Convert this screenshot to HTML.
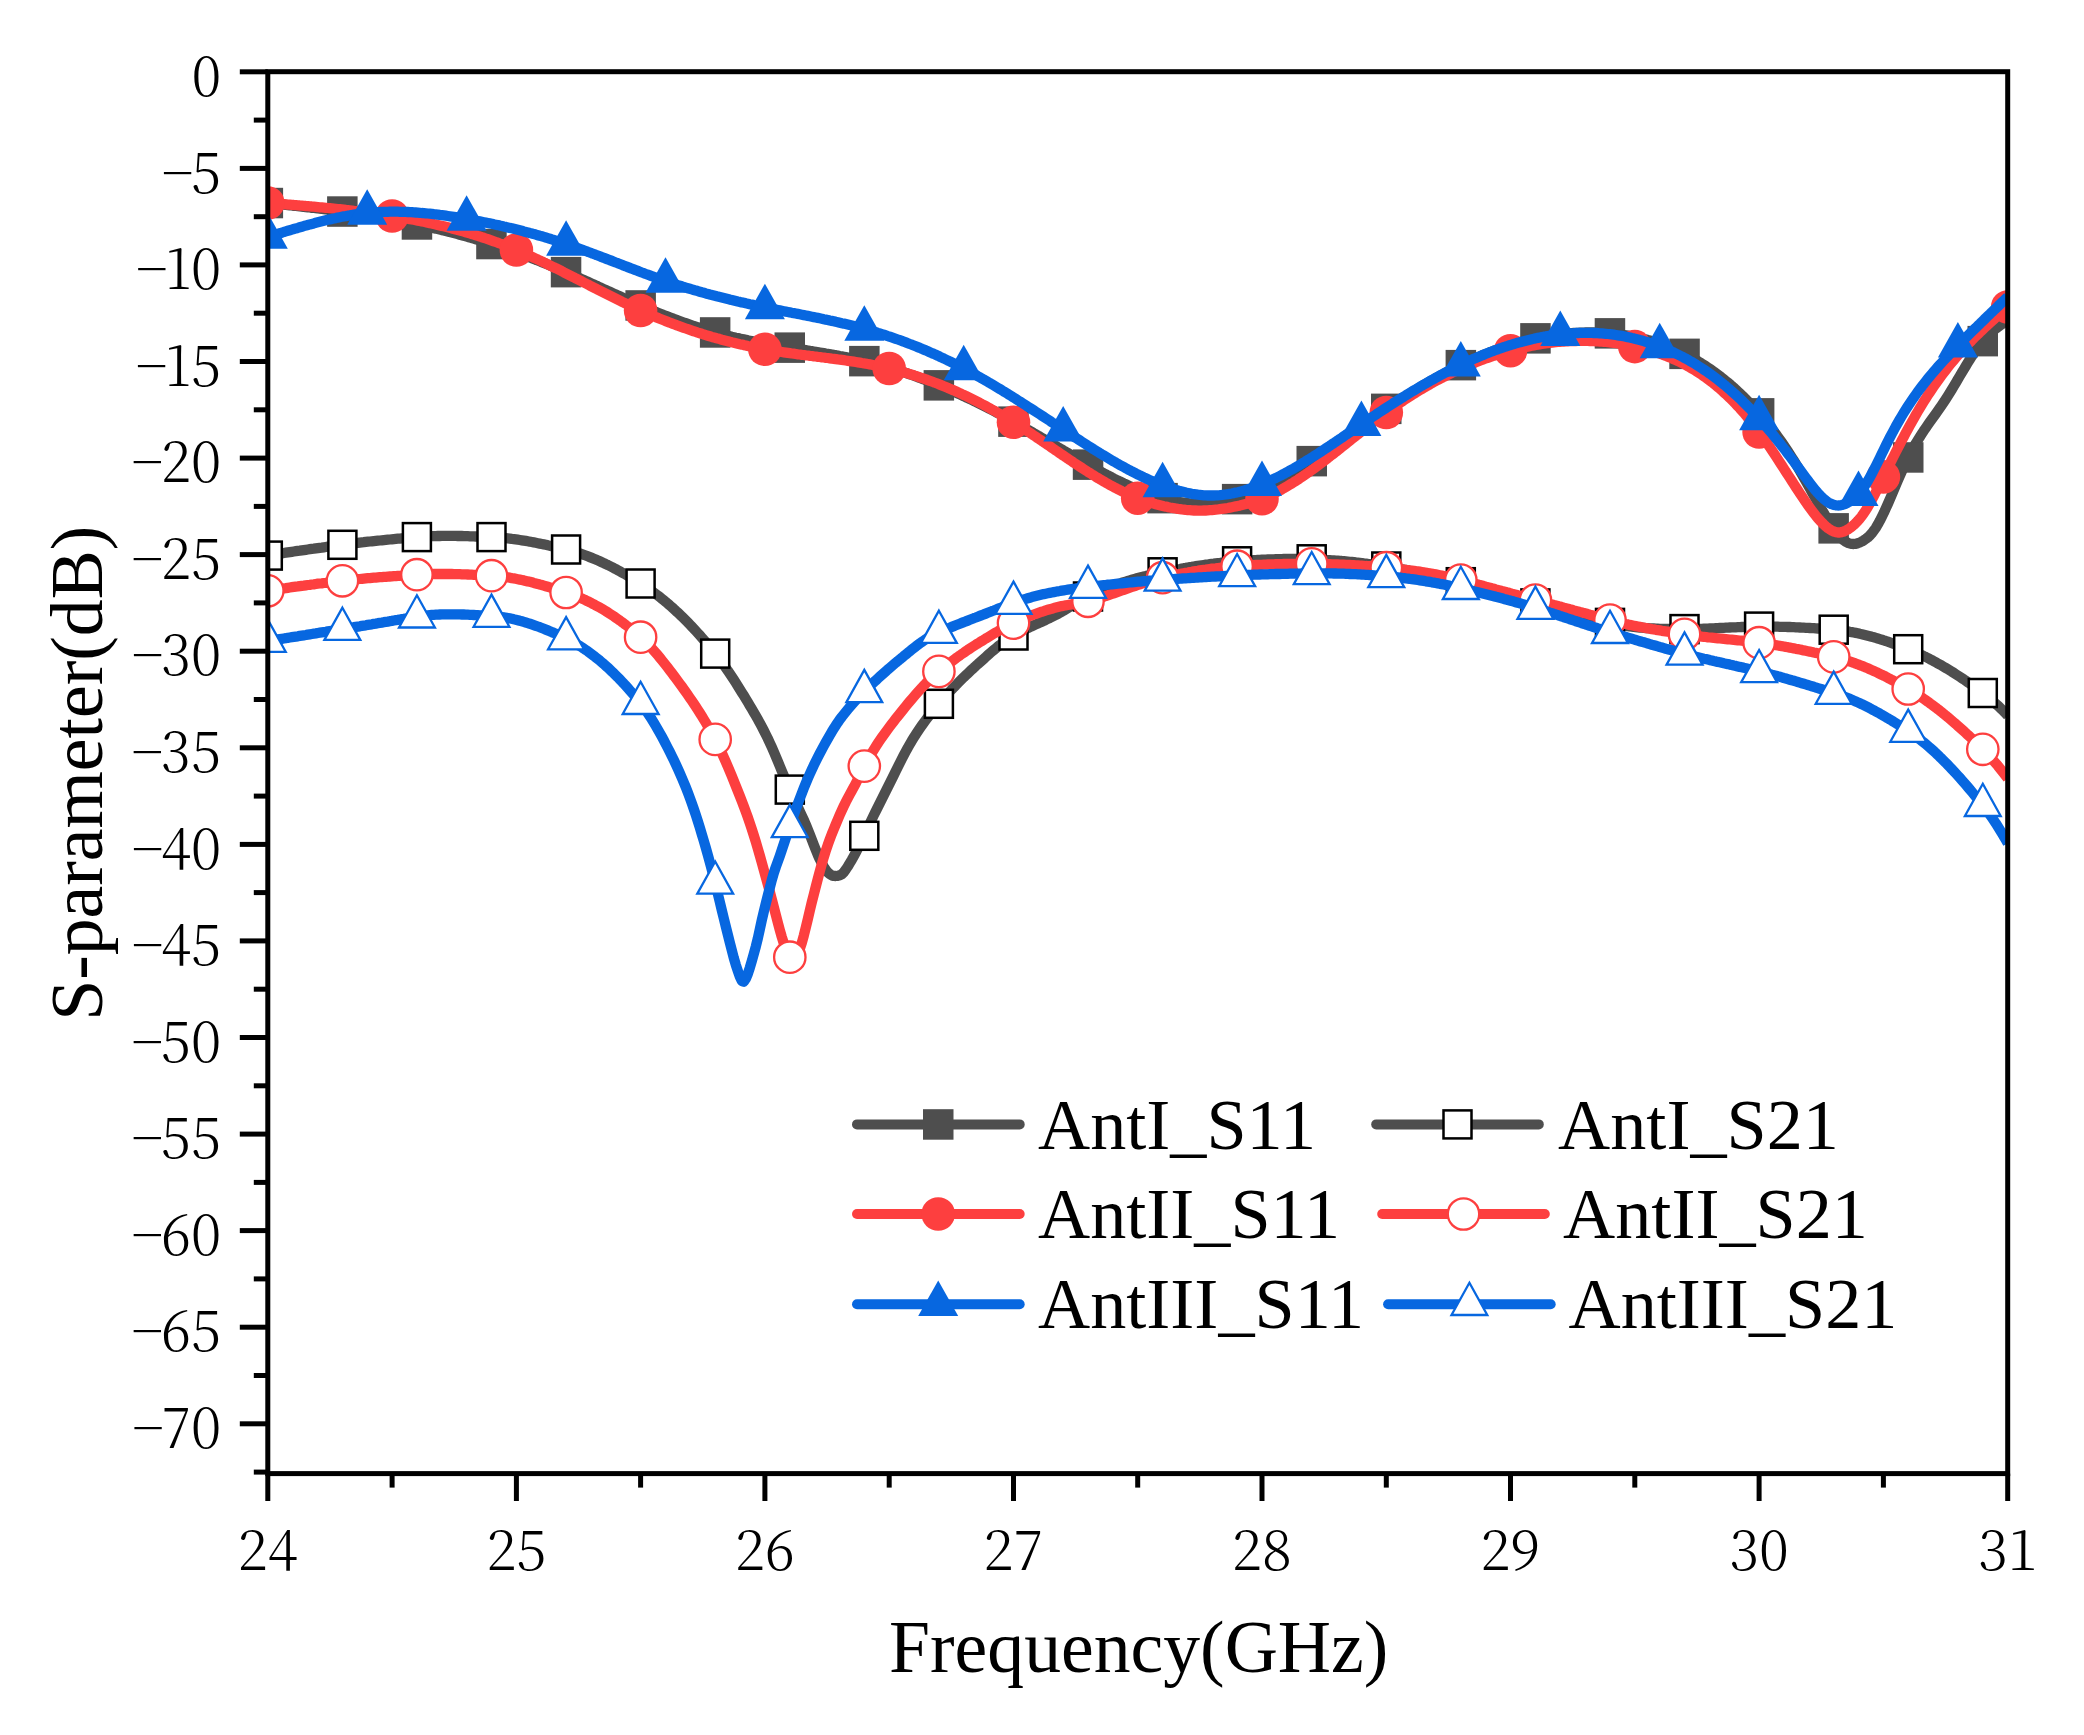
<!DOCTYPE html>
<html lang="en"><head><meta charset="utf-8"><title>S-parameter</title>
<style>
html,body{margin:0;padding:0;background:#fff;}
svg{display:block;}
.tk{font-family:"Noto Serif CJK SC","Liberation Serif",serif;font-weight:300;font-size:55px;fill:#000;}
.lb{font-family:"Liberation Serif","Times New Roman",serif;font-size:73.7px;fill:#000;}
.lg{font-family:"Liberation Serif","Times New Roman",serif;font-size:72.2px;fill:#000;}
</style></head><body>
<svg width="2084" height="1735" viewBox="0 0 2084 1735">
<rect width="2084" height="1735" fill="#fff"/>
<defs><clipPath id="cp"><rect x="267.8" y="71.7" width="1739.9" height="1401.8999999999999"/></clipPath></defs>
<g clip-path="url(#cp)">
<path d="M267.8,203.0 L269.8,203.2 L271.8,203.4 L273.8,203.6 L275.8,203.8 L277.8,204.1 L279.8,204.3 L281.8,204.5 L283.8,204.7 L285.8,204.9 L287.8,205.1 L289.8,205.3 L291.8,205.5 L293.8,205.8 L295.8,206.0 L297.8,206.2 L299.8,206.4 L301.8,206.6 L303.8,206.9 L305.8,207.1 L307.8,207.3 L309.8,207.5 L311.8,207.8 L313.8,208.0 L315.8,208.2 L317.8,208.5 L319.8,208.7 L321.8,209.0 L323.8,209.2 L325.8,209.5 L327.8,209.7 L329.8,210.0 L331.8,210.2 L333.8,210.5 L335.8,210.7 L337.8,211.0 L339.8,211.3 L341.8,211.5 L343.8,211.8 L345.8,212.1 L347.8,212.4 L349.8,212.6 L351.8,212.9 L353.8,213.2 L355.8,213.5 L357.8,213.8 L359.8,214.1 L361.8,214.4 L363.8,214.7 L365.8,215.0 L367.8,215.3 L369.8,215.7 L371.8,216.0 L373.8,216.3 L375.8,216.6 L377.8,217.0 L379.8,217.3 L381.8,217.7 L383.8,218.0 L385.8,218.4 L387.8,218.7 L389.8,219.1 L391.8,219.4 L393.8,219.8 L395.8,220.2 L397.8,220.6 L399.8,220.9 L401.8,221.3 L403.8,221.7 L405.8,222.1 L407.8,222.5 L409.8,222.9 L411.8,223.3 L413.8,223.7 L415.8,224.2 L417.8,224.6 L419.8,225.0 L421.8,225.4 L423.8,225.9 L425.8,226.3 L427.8,226.8 L429.8,227.2 L431.8,227.7 L433.8,228.2 L435.8,228.6 L437.8,229.1 L439.8,229.6 L441.8,230.1 L443.8,230.5 L445.8,231.0 L447.8,231.5 L449.8,232.1 L451.8,232.6 L453.8,233.1 L455.8,233.6 L457.8,234.1 L459.8,234.7 L461.8,235.2 L463.8,235.8 L465.8,236.3 L467.8,236.9 L469.8,237.4 L471.8,238.0 L473.8,238.6 L475.8,239.2 L477.8,239.8 L479.8,240.4 L481.8,241.0 L483.8,241.6 L485.8,242.2 L487.8,242.8 L489.8,243.5 L491.8,244.1 L493.8,244.7 L495.8,245.4 L497.8,246.1 L499.8,246.7 L501.8,247.4 L503.8,248.1 L505.8,248.7 L507.8,249.4 L509.8,250.1 L511.8,250.8 L513.8,251.6 L515.8,252.3 L517.8,253.0 L519.8,253.7 L521.8,254.5 L523.8,255.2 L525.8,255.9 L527.8,256.7 L529.8,257.5 L531.8,258.2 L533.8,259.0 L535.8,259.8 L537.8,260.5 L539.8,261.3 L541.8,262.1 L543.8,262.9 L545.8,263.7 L547.8,264.5 L549.8,265.4 L551.8,266.2 L553.8,267.0 L555.8,267.8 L557.8,268.7 L559.8,269.5 L561.8,270.4 L563.8,271.2 L565.8,272.1 L567.8,273.0 L569.8,273.8 L571.8,274.7 L573.8,275.6 L575.8,276.5 L577.8,277.3 L579.8,278.2 L581.8,279.1 L583.8,280.0 L585.8,280.9 L587.8,281.8 L589.8,282.7 L591.8,283.6 L593.8,284.5 L595.8,285.4 L597.8,286.3 L599.8,287.3 L601.8,288.2 L603.8,289.1 L605.8,290.0 L607.8,290.9 L609.8,291.8 L611.8,292.7 L613.8,293.6 L615.8,294.5 L617.8,295.4 L619.8,296.3 L621.8,297.2 L623.8,298.1 L625.8,299.0 L627.8,299.9 L629.8,300.8 L631.8,301.7 L633.8,302.5 L635.8,303.4 L637.8,304.3 L639.8,305.1 L641.8,306.0 L643.8,306.9 L645.8,307.7 L647.8,308.5 L649.8,309.4 L651.8,310.2 L653.8,311.0 L655.8,311.9 L657.8,312.7 L659.8,313.5 L661.8,314.3 L663.8,315.1 L665.8,315.8 L667.8,316.6 L669.8,317.4 L671.8,318.1 L673.8,318.9 L675.8,319.6 L677.8,320.4 L679.8,321.1 L681.8,321.8 L683.8,322.5 L685.8,323.2 L687.8,323.9 L689.8,324.6 L691.8,325.3 L693.8,326.0 L695.8,326.6 L697.8,327.3 L699.8,327.9 L701.8,328.5 L703.8,329.2 L705.8,329.8 L707.8,330.4 L709.8,331.0 L711.8,331.5 L713.8,332.1 L715.8,332.7 L717.8,333.2 L719.8,333.7 L721.8,334.3 L723.8,334.8 L725.8,335.3 L727.8,335.8 L729.8,336.3 L731.8,336.8 L733.8,337.2 L735.8,337.7 L737.8,338.1 L739.8,338.6 L741.8,339.0 L743.8,339.4 L745.8,339.8 L747.8,340.3 L749.8,340.7 L751.8,341.1 L753.8,341.5 L755.8,341.8 L757.8,342.2 L759.8,342.6 L761.8,343.0 L763.8,343.3 L765.8,343.7 L767.8,344.0 L769.8,344.4 L771.8,344.7 L773.8,345.1 L775.8,345.4 L777.8,345.8 L779.8,346.1 L781.8,346.4 L783.8,346.7 L785.8,347.1 L787.8,347.4 L789.8,347.7 L791.8,348.0 L793.8,348.3 L795.8,348.7 L797.8,349.0 L799.8,349.3 L801.8,349.6 L803.8,349.9 L805.8,350.2 L807.8,350.5 L809.8,350.9 L811.8,351.2 L813.8,351.5 L815.8,351.8 L817.8,352.2 L819.8,352.5 L821.8,352.8 L823.8,353.1 L825.8,353.5 L827.8,353.8 L829.8,354.2 L831.8,354.5 L833.8,354.9 L835.8,355.2 L837.8,355.6 L839.8,356.0 L841.8,356.3 L843.8,356.7 L845.8,357.1 L847.8,357.5 L849.8,357.9 L851.8,358.3 L853.8,358.8 L855.8,359.2 L857.8,359.6 L859.8,360.1 L861.8,360.5 L863.8,361.0 L865.8,361.5 L867.8,361.9 L869.8,362.4 L871.8,362.9 L873.8,363.4 L875.8,364.0 L877.8,364.5 L879.8,365.0 L881.8,365.6 L883.8,366.2 L885.8,366.7 L887.8,367.3 L889.8,367.9 L891.8,368.5 L893.8,369.1 L895.8,369.7 L897.8,370.3 L899.8,371.0 L901.8,371.6 L903.8,372.3 L905.8,372.9 L907.8,373.6 L909.8,374.3 L911.8,375.0 L913.8,375.7 L915.8,376.4 L917.8,377.1 L919.8,377.9 L921.8,378.6 L923.8,379.4 L925.8,380.1 L927.8,380.9 L929.8,381.7 L931.8,382.4 L933.8,383.2 L935.8,384.0 L937.8,384.9 L939.8,385.7 L941.8,386.5 L943.8,387.3 L945.8,388.2 L947.8,389.1 L949.8,389.9 L951.8,390.8 L953.8,391.7 L955.8,392.6 L957.8,393.5 L959.8,394.4 L961.8,395.3 L963.8,396.2 L965.8,397.2 L967.8,398.1 L969.8,399.0 L971.8,400.0 L973.8,401.0 L975.8,401.9 L977.8,402.9 L979.8,403.9 L981.8,404.9 L983.8,405.9 L985.8,406.9 L987.8,407.9 L989.8,409.0 L991.8,410.0 L993.8,411.0 L995.8,412.1 L997.8,413.1 L999.8,414.2 L1001.8,415.3 L1003.8,416.3 L1005.8,417.4 L1007.8,418.5 L1009.8,419.6 L1011.8,420.7 L1013.8,421.8 L1015.8,422.9 L1017.8,424.0 L1019.8,425.1 L1021.8,426.3 L1023.8,427.4 L1025.8,428.6 L1027.8,429.7 L1029.8,430.8 L1031.8,432.0 L1033.8,433.2 L1035.8,434.3 L1037.8,435.5 L1039.8,436.6 L1041.8,437.8 L1043.8,439.0 L1045.8,440.1 L1047.8,441.3 L1049.8,442.5 L1051.8,443.6 L1053.8,444.8 L1055.8,446.0 L1057.8,447.2 L1059.8,448.3 L1061.8,449.5 L1063.8,450.7 L1065.8,451.8 L1067.8,453.0 L1069.8,454.2 L1071.8,455.3 L1073.8,456.5 L1075.8,457.6 L1077.8,458.8 L1079.8,459.9 L1081.8,461.1 L1083.8,462.2 L1085.8,463.4 L1087.8,464.5 L1089.8,465.6 L1091.8,466.7 L1093.8,467.8 L1095.8,468.9 L1097.8,470.0 L1099.8,471.1 L1101.8,472.2 L1103.8,473.3 L1105.8,474.3 L1107.8,475.4 L1109.8,476.4 L1111.8,477.4 L1113.8,478.5 L1115.8,479.5 L1117.8,480.5 L1119.8,481.4 L1121.8,482.4 L1123.8,483.4 L1125.8,484.3 L1127.8,485.2 L1129.8,486.1 L1131.8,487.0 L1133.8,487.9 L1135.8,488.7 L1137.8,489.6 L1139.8,490.4 L1141.8,491.2 L1143.8,492.0 L1145.8,492.7 L1147.8,493.4 L1149.8,494.2 L1151.8,494.9 L1153.8,495.5 L1155.8,496.2 L1157.8,496.8 L1159.8,497.4 L1161.8,498.0 L1163.8,498.5 L1165.8,499.1 L1167.8,499.6 L1169.8,500.0 L1171.8,500.5 L1173.8,500.9 L1175.8,501.3 L1177.8,501.7 L1179.8,502.0 L1181.8,502.3 L1183.8,502.6 L1185.8,502.9 L1187.8,503.1 L1189.8,503.3 L1191.8,503.5 L1193.8,503.6 L1195.8,503.7 L1197.8,503.8 L1199.8,503.9 L1201.8,503.9 L1203.8,503.9 L1205.8,503.9 L1207.8,503.8 L1209.8,503.7 L1211.8,503.6 L1213.8,503.4 L1215.8,503.2 L1217.8,503.0 L1219.8,502.8 L1221.8,502.5 L1223.8,502.1 L1225.8,501.8 L1227.8,501.4 L1229.8,501.0 L1231.8,500.6 L1233.8,500.1 L1235.8,499.6 L1237.8,499.0 L1239.8,498.4 L1241.8,497.8 L1243.8,497.2 L1245.8,496.5 L1247.8,495.8 L1249.8,495.1 L1251.8,494.3 L1253.8,493.5 L1255.8,492.7 L1257.8,491.9 L1259.8,491.0 L1261.8,490.1 L1263.8,489.2 L1265.8,488.2 L1267.8,487.3 L1269.8,486.3 L1271.8,485.3 L1273.8,484.2 L1275.8,483.2 L1277.8,482.1 L1279.8,481.0 L1281.8,479.9 L1283.8,478.7 L1285.8,477.6 L1287.8,476.4 L1289.8,475.2 L1291.8,474.0 L1293.8,472.8 L1295.8,471.5 L1297.8,470.3 L1299.8,469.0 L1301.8,467.7 L1303.8,466.4 L1305.8,465.1 L1307.8,463.8 L1309.8,462.5 L1311.8,461.1 L1313.8,459.8 L1315.8,458.4 L1317.8,457.1 L1319.8,455.7 L1321.8,454.3 L1323.8,452.9 L1325.8,451.5 L1327.8,450.1 L1329.8,448.7 L1331.8,447.3 L1333.8,445.9 L1335.8,444.5 L1337.8,443.1 L1339.8,441.6 L1341.8,440.2 L1343.8,438.8 L1345.8,437.4 L1347.8,435.9 L1349.8,434.5 L1351.8,433.1 L1353.8,431.6 L1355.8,430.2 L1357.8,428.8 L1359.8,427.3 L1361.8,425.9 L1363.8,424.5 L1365.8,423.1 L1367.8,421.6 L1369.8,420.2 L1371.8,418.8 L1373.8,417.4 L1375.8,416.0 L1377.8,414.6 L1379.8,413.2 L1381.8,411.9 L1383.8,410.5 L1385.8,409.1 L1387.8,407.8 L1389.8,406.4 L1391.8,405.1 L1393.8,403.8 L1395.8,402.4 L1397.8,401.1 L1399.8,399.8 L1401.8,398.5 L1403.8,397.3 L1405.8,396.0 L1407.8,394.7 L1409.8,393.5 L1411.8,392.2 L1413.8,391.0 L1415.8,389.8 L1417.8,388.6 L1419.8,387.4 L1421.8,386.2 L1423.8,385.0 L1425.8,383.8 L1427.8,382.7 L1429.8,381.5 L1431.8,380.4 L1433.8,379.2 L1435.8,378.1 L1437.8,377.0 L1439.8,375.9 L1441.8,374.8 L1443.8,373.8 L1445.8,372.7 L1447.8,371.7 L1449.8,370.6 L1451.8,369.6 L1453.8,368.6 L1455.8,367.6 L1457.8,366.6 L1459.8,365.6 L1461.8,364.6 L1463.8,363.7 L1465.8,362.7 L1467.8,361.8 L1469.8,360.9 L1471.8,360.0 L1473.8,359.1 L1475.8,358.2 L1477.8,357.3 L1479.8,356.5 L1481.8,355.6 L1483.8,354.8 L1485.8,354.0 L1487.8,353.2 L1489.8,352.4 L1491.8,351.6 L1493.8,350.9 L1495.8,350.1 L1497.8,349.4 L1499.8,348.7 L1501.8,348.0 L1503.8,347.3 L1505.8,346.6 L1507.8,346.0 L1509.8,345.3 L1511.8,344.7 L1513.8,344.1 L1515.8,343.5 L1517.8,342.9 L1519.8,342.3 L1521.8,341.8 L1523.8,341.2 L1525.8,340.7 L1527.8,340.2 L1529.8,339.7 L1531.8,339.2 L1533.8,338.8 L1535.8,338.3 L1537.8,337.9 L1539.8,337.5 L1541.8,337.1 L1543.8,336.7 L1545.8,336.3 L1547.8,336.0 L1549.8,335.7 L1551.8,335.3 L1553.8,335.1 L1555.8,334.8 L1557.8,334.5 L1559.8,334.3 L1561.8,334.0 L1563.8,333.8 L1565.8,333.6 L1567.8,333.4 L1569.8,333.3 L1571.8,333.1 L1573.8,333.0 L1575.8,332.9 L1577.8,332.8 L1579.8,332.7 L1581.8,332.6 L1583.8,332.6 L1585.8,332.5 L1587.8,332.5 L1589.8,332.5 L1591.8,332.5 L1593.8,332.5 L1595.8,332.6 L1597.8,332.7 L1599.8,332.7 L1601.8,332.8 L1603.8,332.9 L1605.8,333.1 L1607.8,333.2 L1609.8,333.4 L1611.8,333.6 L1613.8,333.8 L1615.8,334.0 L1617.8,334.2 L1619.8,334.5 L1621.8,334.7 L1623.8,335.0 L1625.8,335.3 L1627.8,335.6 L1629.8,336.0 L1631.8,336.3 L1633.8,336.7 L1635.8,337.1 L1637.8,337.5 L1639.8,338.0 L1641.8,338.4 L1643.8,338.9 L1645.8,339.4 L1647.8,340.0 L1649.8,340.5 L1651.8,341.1 L1653.8,341.7 L1655.8,342.3 L1657.8,342.9 L1659.8,343.6 L1661.8,344.3 L1663.8,345.0 L1665.8,345.7 L1667.8,346.5 L1669.8,347.3 L1671.8,348.1 L1673.8,348.9 L1675.8,349.8 L1677.8,350.7 L1679.8,351.6 L1681.8,352.6 L1683.8,353.5 L1685.8,354.5 L1687.8,355.6 L1689.8,356.6 L1691.8,357.7 L1693.8,358.8 L1695.8,360.0 L1697.8,361.1 L1699.8,362.3 L1701.8,363.6 L1703.8,364.8 L1705.8,366.1 L1707.8,367.5 L1709.8,368.8 L1711.8,370.2 L1713.8,371.6 L1715.8,373.1 L1717.8,374.6 L1719.8,376.1 L1721.8,377.7 L1723.8,379.3 L1725.8,380.9 L1727.8,382.5 L1729.8,384.2 L1731.8,386.0 L1733.8,387.7 L1735.8,389.5 L1737.8,391.4 L1739.8,393.3 L1741.8,395.2 L1743.8,397.1 L1745.8,399.1 L1747.8,401.2 L1749.8,403.2 L1751.8,405.4 L1753.8,407.5 L1755.8,409.7 L1757.8,411.9 L1759.8,414.2 L1761.8,416.5 L1763.8,418.9 L1765.8,421.3 L1767.8,423.7 L1769.8,426.2 L1771.8,428.8 L1773.8,431.4 L1775.8,434.0 L1777.8,436.7 L1779.8,439.5 L1781.8,442.3 L1783.8,445.2 L1785.8,448.1 L1787.8,451.1 L1789.8,454.2 L1791.8,457.4 L1793.8,460.6 L1795.8,463.8 L1797.8,467.2 L1799.8,470.6 L1801.8,474.1 L1803.8,477.6 L1805.8,481.1 L1807.8,484.7 L1809.8,488.3 L1811.8,491.9 L1813.8,495.5 L1815.8,499.1 L1817.8,502.6 L1819.8,506.1 L1821.8,509.6 L1823.8,512.9 L1825.8,516.3 L1827.8,519.5 L1829.8,522.6 L1831.8,525.7 L1833.8,528.6 L1835.8,531.4 L1837.8,534.0 L1839.8,536.4 L1841.8,538.5 L1843.8,540.3 L1845.8,541.7 L1847.8,542.8 L1849.8,543.5 L1851.8,543.9 L1853.8,544.0 L1855.8,543.8 L1857.8,543.2 L1859.8,542.5 L1861.8,541.5 L1863.8,540.3 L1865.8,538.9 L1867.8,537.4 L1869.8,535.5 L1871.8,533.3 L1873.8,530.7 L1875.8,527.8 L1877.8,524.4 L1879.8,520.8 L1881.8,516.9 L1883.8,512.8 L1885.8,508.4 L1887.8,504.0 L1889.8,499.4 L1891.8,494.7 L1893.8,490.0 L1895.8,485.3 L1897.8,480.6 L1899.8,476.0 L1901.8,471.4 L1903.8,466.9 L1905.8,462.6 L1907.8,458.4 L1909.8,454.4 L1911.8,450.6 L1913.8,446.9 L1915.8,443.4 L1917.8,440.1 L1919.8,436.9 L1921.8,433.8 L1923.8,430.7 L1925.8,427.8 L1927.8,424.9 L1929.8,422.1 L1931.8,419.3 L1933.8,416.5 L1935.8,413.7 L1937.8,410.8 L1939.8,408.0 L1941.8,405.1 L1943.8,402.1 L1945.8,399.1 L1947.8,396.0 L1949.8,392.8 L1951.8,389.5 L1953.8,386.2 L1955.8,382.8 L1957.8,379.4 L1959.8,376.0 L1961.8,372.6 L1963.8,369.3 L1965.8,366.0 L1967.8,362.7 L1969.8,359.5 L1971.8,356.3 L1973.8,353.3 L1975.8,350.3 L1977.8,347.5 L1979.8,344.8 L1981.8,342.3 L1983.8,339.9 L1985.8,337.7 L1987.8,335.6 L1989.8,333.7 L1991.8,331.9 L1993.8,330.2 L1995.8,328.6 L1997.8,327.1 L1999.8,325.6 L2001.8,324.2 L2003.8,322.9 L2005.8,321.6 L2007.8,320.3" fill="none" stroke="#4e4e4e" stroke-width="10.3" stroke-linejoin="round"/>
<rect x="252.6" y="187.8" width="30.5" height="30.5" fill="#4e4e4e"/>
<rect x="327.1" y="196.3" width="30.5" height="30.5" fill="#4e4e4e"/>
<rect x="401.7" y="209.2" width="30.5" height="30.5" fill="#4e4e4e"/>
<rect x="476.2" y="228.8" width="30.5" height="30.5" fill="#4e4e4e"/>
<rect x="550.8" y="256.9" width="30.5" height="30.5" fill="#4e4e4e"/>
<rect x="625.4" y="290.2" width="30.5" height="30.5" fill="#4e4e4e"/>
<rect x="699.9" y="317.2" width="30.5" height="30.5" fill="#4e4e4e"/>
<rect x="774.5" y="332.4" width="30.5" height="30.5" fill="#4e4e4e"/>
<rect x="849.1" y="345.9" width="30.5" height="30.5" fill="#4e4e4e"/>
<rect x="923.6" y="370.1" width="30.5" height="30.5" fill="#4e4e4e"/>
<rect x="998.2" y="406.4" width="30.5" height="30.5" fill="#4e4e4e"/>
<rect x="1072.8" y="449.4" width="30.5" height="30.5" fill="#4e4e4e"/>
<rect x="1147.3" y="482.9" width="30.5" height="30.5" fill="#4e4e4e"/>
<rect x="1221.9" y="483.9" width="30.5" height="30.5" fill="#4e4e4e"/>
<rect x="1296.5" y="445.9" width="30.5" height="30.5" fill="#4e4e4e"/>
<rect x="1371.0" y="393.6" width="30.5" height="30.5" fill="#4e4e4e"/>
<rect x="1445.6" y="349.9" width="30.5" height="30.5" fill="#4e4e4e"/>
<rect x="1520.2" y="323.1" width="30.5" height="30.5" fill="#4e4e4e"/>
<rect x="1594.7" y="318.1" width="30.5" height="30.5" fill="#4e4e4e"/>
<rect x="1669.3" y="338.6" width="30.5" height="30.5" fill="#4e4e4e"/>
<rect x="1743.9" y="398.1" width="30.5" height="30.5" fill="#4e4e4e"/>
<rect x="1818.4" y="513.1" width="30.5" height="30.5" fill="#4e4e4e"/>
<rect x="1893.0" y="442.2" width="30.5" height="30.5" fill="#4e4e4e"/>
<rect x="1967.5" y="325.9" width="30.5" height="30.5" fill="#4e4e4e"/>
<path d="M267.8,203.0 L269.8,203.2 L271.8,203.3 L273.8,203.5 L275.8,203.6 L277.8,203.8 L279.8,203.9 L281.8,204.1 L283.8,204.2 L285.8,204.4 L287.8,204.6 L289.8,204.7 L291.8,204.9 L293.8,205.0 L295.8,205.2 L297.8,205.4 L299.8,205.5 L301.8,205.7 L303.8,205.9 L305.8,206.0 L307.8,206.2 L309.8,206.4 L311.8,206.5 L313.8,206.7 L315.8,206.9 L317.8,207.1 L319.8,207.3 L321.8,207.4 L323.8,207.6 L325.8,207.8 L327.8,208.0 L329.8,208.2 L331.8,208.4 L333.8,208.6 L335.8,208.8 L337.8,209.0 L339.8,209.2 L341.8,209.4 L343.8,209.6 L345.8,209.9 L347.8,210.1 L349.8,210.3 L351.8,210.5 L353.8,210.8 L355.8,211.0 L357.8,211.2 L359.8,211.5 L361.8,211.7 L363.8,212.0 L365.8,212.2 L367.8,212.5 L369.8,212.7 L371.8,213.0 L373.8,213.3 L375.8,213.6 L377.8,213.8 L379.8,214.1 L381.8,214.4 L383.8,214.7 L385.8,215.0 L387.8,215.3 L389.8,215.6 L391.8,216.0 L393.8,216.3 L395.8,216.6 L397.8,216.9 L399.8,217.3 L401.8,217.6 L403.8,218.0 L405.8,218.3 L407.8,218.7 L409.8,219.1 L411.8,219.4 L413.8,219.8 L415.8,220.2 L417.8,220.6 L419.8,221.0 L421.8,221.4 L423.8,221.8 L425.8,222.2 L427.8,222.7 L429.8,223.1 L431.8,223.5 L433.8,224.0 L435.8,224.4 L437.8,224.9 L439.8,225.4 L441.8,225.9 L443.8,226.3 L445.8,226.8 L447.8,227.3 L449.8,227.8 L451.8,228.4 L453.8,228.9 L455.8,229.4 L457.8,230.0 L459.8,230.5 L461.8,231.1 L463.8,231.6 L465.8,232.2 L467.8,232.8 L469.8,233.4 L471.8,234.0 L473.8,234.6 L475.8,235.2 L477.8,235.9 L479.8,236.5 L481.8,237.2 L483.8,237.8 L485.8,238.5 L487.8,239.2 L489.8,239.9 L491.8,240.6 L493.8,241.3 L495.8,242.0 L497.8,242.7 L499.8,243.5 L501.8,244.2 L503.8,245.0 L505.8,245.7 L507.8,246.5 L509.8,247.3 L511.8,248.1 L513.8,248.9 L515.8,249.8 L517.8,250.6 L519.8,251.5 L521.8,252.3 L523.8,253.2 L525.8,254.1 L527.8,255.0 L529.8,255.9 L531.8,256.8 L533.8,257.7 L535.8,258.6 L537.8,259.5 L539.8,260.5 L541.8,261.4 L543.8,262.4 L545.8,263.3 L547.8,264.3 L549.8,265.3 L551.8,266.3 L553.8,267.3 L555.8,268.2 L557.8,269.2 L559.8,270.2 L561.8,271.2 L563.8,272.3 L565.8,273.3 L567.8,274.3 L569.8,275.3 L571.8,276.3 L573.8,277.3 L575.8,278.4 L577.8,279.4 L579.8,280.4 L581.8,281.4 L583.8,282.5 L585.8,283.5 L587.8,284.5 L589.8,285.6 L591.8,286.6 L593.8,287.6 L595.8,288.6 L597.8,289.7 L599.8,290.7 L601.8,291.7 L603.8,292.7 L605.8,293.7 L607.8,294.7 L609.8,295.7 L611.8,296.7 L613.8,297.7 L615.8,298.7 L617.8,299.7 L619.8,300.7 L621.8,301.7 L623.8,302.6 L625.8,303.6 L627.8,304.5 L629.8,305.5 L631.8,306.4 L633.8,307.4 L635.8,308.3 L637.8,309.2 L639.8,310.1 L641.8,311.0 L643.8,311.9 L645.8,312.8 L647.8,313.7 L649.8,314.5 L651.8,315.4 L653.8,316.2 L655.8,317.1 L657.8,317.9 L659.8,318.7 L661.8,319.5 L663.8,320.3 L665.8,321.1 L667.8,321.9 L669.8,322.7 L671.8,323.4 L673.8,324.2 L675.8,324.9 L677.8,325.7 L679.8,326.4 L681.8,327.1 L683.8,327.8 L685.8,328.5 L687.8,329.2 L689.8,329.9 L691.8,330.6 L693.8,331.3 L695.8,331.9 L697.8,332.6 L699.8,333.2 L701.8,333.8 L703.8,334.5 L705.8,335.1 L707.8,335.7 L709.8,336.3 L711.8,336.9 L713.8,337.4 L715.8,338.0 L717.8,338.6 L719.8,339.1 L721.8,339.7 L723.8,340.2 L725.8,340.7 L727.8,341.2 L729.8,341.8 L731.8,342.3 L733.8,342.7 L735.8,343.2 L737.8,343.7 L739.8,344.2 L741.8,344.6 L743.8,345.1 L745.8,345.5 L747.8,346.0 L749.8,346.4 L751.8,346.8 L753.8,347.2 L755.8,347.6 L757.8,348.0 L759.8,348.4 L761.8,348.7 L763.8,349.1 L765.8,349.5 L767.8,349.8 L769.8,350.1 L771.8,350.5 L773.8,350.8 L775.8,351.1 L777.8,351.4 L779.8,351.7 L781.8,352.0 L783.8,352.3 L785.8,352.6 L787.8,352.9 L789.8,353.2 L791.8,353.5 L793.8,353.7 L795.8,354.0 L797.8,354.3 L799.8,354.5 L801.8,354.8 L803.8,355.0 L805.8,355.3 L807.8,355.5 L809.8,355.8 L811.8,356.0 L813.8,356.3 L815.8,356.5 L817.8,356.8 L819.8,357.0 L821.8,357.3 L823.8,357.5 L825.8,357.8 L827.8,358.0 L829.8,358.3 L831.8,358.6 L833.8,358.8 L835.8,359.1 L837.8,359.4 L839.8,359.6 L841.8,359.9 L843.8,360.2 L845.8,360.5 L847.8,360.8 L849.8,361.1 L851.8,361.4 L853.8,361.7 L855.8,362.0 L857.8,362.3 L859.8,362.6 L861.8,363.0 L863.8,363.3 L865.8,363.7 L867.8,364.0 L869.8,364.4 L871.8,364.8 L873.8,365.2 L875.8,365.6 L877.8,366.0 L879.8,366.4 L881.8,366.8 L883.8,367.3 L885.8,367.7 L887.8,368.2 L889.8,368.7 L891.8,369.1 L893.8,369.6 L895.8,370.2 L897.8,370.7 L899.8,371.2 L901.8,371.8 L903.8,372.3 L905.8,372.9 L907.8,373.5 L909.8,374.1 L911.8,374.7 L913.8,375.3 L915.8,376.0 L917.8,376.6 L919.8,377.3 L921.8,378.0 L923.8,378.6 L925.8,379.3 L927.8,380.1 L929.8,380.8 L931.8,381.5 L933.8,382.3 L935.8,383.0 L937.8,383.8 L939.8,384.6 L941.8,385.4 L943.8,386.2 L945.8,387.0 L947.8,387.9 L949.8,388.7 L951.8,389.6 L953.8,390.4 L955.8,391.3 L957.8,392.2 L959.8,393.1 L961.8,394.1 L963.8,395.0 L965.8,395.9 L967.8,396.9 L969.8,397.9 L971.8,398.9 L973.8,399.9 L975.8,400.9 L977.8,401.9 L979.8,402.9 L981.8,404.0 L983.8,405.0 L985.8,406.1 L987.8,407.2 L989.8,408.3 L991.8,409.4 L993.8,410.5 L995.8,411.6 L997.8,412.8 L999.8,414.0 L1001.8,415.1 L1003.8,416.3 L1005.8,417.5 L1007.8,418.7 L1009.8,419.9 L1011.8,421.2 L1013.8,422.4 L1015.8,423.7 L1017.8,424.9 L1019.8,426.2 L1021.8,427.5 L1023.8,428.8 L1025.8,430.1 L1027.8,431.5 L1029.8,432.8 L1031.8,434.1 L1033.8,435.5 L1035.8,436.8 L1037.8,438.2 L1039.8,439.5 L1041.8,440.9 L1043.8,442.2 L1045.8,443.6 L1047.8,445.0 L1049.8,446.3 L1051.8,447.7 L1053.8,449.1 L1055.8,450.5 L1057.8,451.8 L1059.8,453.2 L1061.8,454.6 L1063.8,455.9 L1065.8,457.3 L1067.8,458.6 L1069.8,460.0 L1071.8,461.3 L1073.8,462.7 L1075.8,464.0 L1077.8,465.3 L1079.8,466.6 L1081.8,467.9 L1083.8,469.2 L1085.8,470.5 L1087.8,471.8 L1089.8,473.0 L1091.8,474.3 L1093.8,475.5 L1095.8,476.8 L1097.8,478.0 L1099.8,479.2 L1101.8,480.3 L1103.8,481.5 L1105.8,482.7 L1107.8,483.8 L1109.8,484.9 L1111.8,486.0 L1113.8,487.1 L1115.8,488.1 L1117.8,489.2 L1119.8,490.2 L1121.8,491.2 L1123.8,492.1 L1125.8,493.1 L1127.8,494.0 L1129.8,494.9 L1131.8,495.8 L1133.8,496.6 L1135.8,497.4 L1137.8,498.2 L1139.8,499.0 L1141.8,499.7 L1143.8,500.4 L1145.8,501.1 L1147.8,501.8 L1149.8,502.4 L1151.8,503.0 L1153.8,503.6 L1155.8,504.2 L1157.8,504.7 L1159.8,505.2 L1161.8,505.7 L1163.8,506.2 L1165.8,506.6 L1167.8,507.1 L1169.8,507.5 L1171.8,507.8 L1173.8,508.2 L1175.8,508.5 L1177.8,508.9 L1179.8,509.1 L1181.8,509.4 L1183.8,509.6 L1185.8,509.9 L1187.8,510.1 L1189.8,510.2 L1191.8,510.4 L1193.8,510.5 L1195.8,510.5 L1197.8,510.6 L1199.8,510.6 L1201.8,510.6 L1203.8,510.5 L1205.8,510.5 L1207.8,510.4 L1209.8,510.2 L1211.8,510.1 L1213.8,509.9 L1215.8,509.7 L1217.8,509.5 L1219.8,509.2 L1221.8,508.9 L1223.8,508.6 L1225.8,508.3 L1227.8,508.0 L1229.8,507.6 L1231.8,507.2 L1233.8,506.8 L1235.8,506.4 L1237.8,506.0 L1239.8,505.6 L1241.8,505.1 L1243.8,504.6 L1245.8,504.1 L1247.8,503.5 L1249.8,503.0 L1251.8,502.4 L1253.8,501.7 L1255.8,501.1 L1257.8,500.4 L1259.8,499.6 L1261.8,498.9 L1263.8,498.1 L1265.8,497.2 L1267.8,496.4 L1269.8,495.5 L1271.8,494.5 L1273.8,493.6 L1275.8,492.6 L1277.8,491.5 L1279.8,490.5 L1281.8,489.4 L1283.8,488.2 L1285.8,487.1 L1287.8,485.9 L1289.8,484.7 L1291.8,483.5 L1293.8,482.2 L1295.8,481.0 L1297.8,479.7 L1299.8,478.3 L1301.8,477.0 L1303.8,475.6 L1305.8,474.3 L1307.8,472.9 L1309.8,471.5 L1311.8,470.0 L1313.8,468.6 L1315.8,467.1 L1317.8,465.6 L1319.8,464.1 L1321.8,462.6 L1323.8,461.1 L1325.8,459.6 L1327.8,458.1 L1329.8,456.5 L1331.8,455.0 L1333.8,453.4 L1335.8,451.8 L1337.8,450.3 L1339.8,448.7 L1341.8,447.1 L1343.8,445.5 L1345.8,443.9 L1347.8,442.3 L1349.8,440.7 L1351.8,439.1 L1353.8,437.5 L1355.8,435.9 L1357.8,434.4 L1359.8,432.8 L1361.8,431.2 L1363.8,429.6 L1365.8,428.0 L1367.8,426.5 L1369.8,424.9 L1371.8,423.4 L1373.8,421.8 L1375.8,420.3 L1377.8,418.8 L1379.8,417.3 L1381.8,415.8 L1383.8,414.3 L1385.8,412.8 L1387.8,411.4 L1389.8,410.0 L1391.8,408.5 L1393.8,407.1 L1395.8,405.7 L1397.8,404.4 L1399.8,403.0 L1401.8,401.7 L1403.8,400.3 L1405.8,399.0 L1407.8,397.7 L1409.8,396.4 L1411.8,395.1 L1413.8,393.9 L1415.8,392.6 L1417.8,391.4 L1419.8,390.2 L1421.8,389.0 L1423.8,387.8 L1425.8,386.7 L1427.8,385.5 L1429.8,384.4 L1431.8,383.2 L1433.8,382.1 L1435.8,381.0 L1437.8,380.0 L1439.8,378.9 L1441.8,377.9 L1443.8,376.8 L1445.8,375.8 L1447.8,374.8 L1449.8,373.8 L1451.8,372.8 L1453.8,371.9 L1455.8,370.9 L1457.8,370.0 L1459.8,369.1 L1461.8,368.2 L1463.8,367.3 L1465.8,366.4 L1467.8,365.6 L1469.8,364.7 L1471.8,363.9 L1473.8,363.1 L1475.8,362.3 L1477.8,361.5 L1479.8,360.7 L1481.8,360.0 L1483.8,359.2 L1485.8,358.5 L1487.8,357.8 L1489.8,357.1 L1491.8,356.4 L1493.8,355.7 L1495.8,355.1 L1497.8,354.4 L1499.8,353.8 L1501.8,353.2 L1503.8,352.6 L1505.8,352.0 L1507.8,351.5 L1509.8,350.9 L1511.8,350.4 L1513.8,349.8 L1515.8,349.3 L1517.8,348.8 L1519.8,348.4 L1521.8,347.9 L1523.8,347.4 L1525.8,347.0 L1527.8,346.6 L1529.8,346.2 L1531.8,345.8 L1533.8,345.4 L1535.8,345.0 L1537.8,344.7 L1539.8,344.3 L1541.8,344.0 L1543.8,343.7 L1545.8,343.4 L1547.8,343.2 L1549.8,342.9 L1551.8,342.7 L1553.8,342.4 L1555.8,342.2 L1557.8,342.0 L1559.8,341.8 L1561.8,341.7 L1563.8,341.5 L1565.8,341.4 L1567.8,341.3 L1569.8,341.2 L1571.8,341.1 L1573.8,341.0 L1575.8,341.0 L1577.8,340.9 L1579.8,340.9 L1581.8,340.9 L1583.8,340.9 L1585.8,340.9 L1587.8,340.9 L1589.8,341.0 L1591.8,341.1 L1593.8,341.2 L1595.8,341.3 L1597.8,341.4 L1599.8,341.5 L1601.8,341.7 L1603.8,341.8 L1605.8,342.0 L1607.8,342.2 L1609.8,342.4 L1611.8,342.7 L1613.8,342.9 L1615.8,343.2 L1617.8,343.5 L1619.8,343.8 L1621.8,344.1 L1623.8,344.4 L1625.8,344.8 L1627.8,345.2 L1629.8,345.6 L1631.8,346.0 L1633.8,346.4 L1635.8,346.8 L1637.8,347.3 L1639.8,347.7 L1641.8,348.2 L1643.8,348.7 L1645.8,349.3 L1647.8,349.8 L1649.8,350.4 L1651.8,351.0 L1653.8,351.6 L1655.8,352.3 L1657.8,352.9 L1659.8,353.6 L1661.8,354.3 L1663.8,355.1 L1665.8,355.8 L1667.8,356.6 L1669.8,357.4 L1671.8,358.3 L1673.8,359.2 L1675.8,360.1 L1677.8,361.0 L1679.8,362.0 L1681.8,363.0 L1683.8,364.0 L1685.8,365.1 L1687.8,366.2 L1689.8,367.3 L1691.8,368.5 L1693.8,369.7 L1695.8,370.9 L1697.8,372.2 L1699.8,373.5 L1701.8,374.8 L1703.8,376.2 L1705.8,377.6 L1707.8,379.1 L1709.8,380.6 L1711.8,382.1 L1713.8,383.7 L1715.8,385.3 L1717.8,387.0 L1719.8,388.7 L1721.8,390.5 L1723.8,392.3 L1725.8,394.1 L1727.8,396.0 L1729.8,397.9 L1731.8,399.9 L1733.8,401.9 L1735.8,404.0 L1737.8,406.2 L1739.8,408.3 L1741.8,410.6 L1743.8,412.8 L1745.8,415.2 L1747.8,417.5 L1749.8,420.0 L1751.8,422.5 L1753.8,425.0 L1755.8,427.6 L1757.8,430.2 L1759.8,433.0 L1761.8,435.7 L1763.8,438.5 L1765.8,441.4 L1767.8,444.3 L1769.8,447.2 L1771.8,450.2 L1773.8,453.2 L1775.8,456.2 L1777.8,459.3 L1779.8,462.3 L1781.8,465.4 L1783.8,468.5 L1785.8,471.6 L1787.8,474.7 L1789.8,477.8 L1791.8,480.9 L1793.8,484.0 L1795.8,487.1 L1797.8,490.1 L1799.8,493.2 L1801.8,496.2 L1803.8,499.1 L1805.8,502.1 L1807.8,504.9 L1809.8,507.8 L1811.8,510.5 L1813.8,513.1 L1815.8,515.7 L1817.8,518.1 L1819.8,520.4 L1821.8,522.5 L1823.8,524.5 L1825.8,526.3 L1827.8,528.0 L1829.8,529.4 L1831.8,530.6 L1833.8,531.5 L1835.8,532.1 L1837.8,532.5 L1839.8,532.5 L1841.8,532.1 L1843.8,531.5 L1845.8,530.6 L1847.8,529.5 L1849.8,528.1 L1851.8,526.6 L1853.8,524.9 L1855.8,523.0 L1857.8,520.9 L1859.8,518.6 L1861.8,516.1 L1863.8,513.3 L1865.8,510.2 L1867.8,507.0 L1869.8,503.5 L1871.8,499.9 L1873.8,496.1 L1875.8,492.2 L1877.8,488.2 L1879.8,484.2 L1881.8,480.1 L1883.8,476.0 L1885.8,472.0 L1887.8,467.9 L1889.8,463.9 L1891.8,459.9 L1893.8,456.0 L1895.8,452.0 L1897.8,448.1 L1899.8,444.3 L1901.8,440.4 L1903.8,436.7 L1905.8,432.9 L1907.8,429.2 L1909.8,425.6 L1911.8,422.0 L1913.8,418.4 L1915.8,414.9 L1917.8,411.5 L1919.8,408.1 L1921.8,404.8 L1923.8,401.6 L1925.8,398.4 L1927.8,395.3 L1929.8,392.3 L1931.8,389.3 L1933.8,386.4 L1935.8,383.5 L1937.8,380.7 L1939.8,377.9 L1941.8,375.2 L1943.8,372.6 L1945.8,370.0 L1947.8,367.4 L1949.8,364.9 L1951.8,362.5 L1953.8,360.1 L1955.8,357.7 L1957.8,355.4 L1959.8,353.1 L1961.8,350.9 L1963.8,348.7 L1965.8,346.5 L1967.8,344.4 L1969.8,342.3 L1971.8,340.3 L1973.8,338.2 L1975.8,336.2 L1977.8,334.3 L1979.8,332.3 L1981.8,330.4 L1983.8,328.5 L1985.8,326.6 L1987.8,324.8 L1989.8,322.9 L1991.8,321.1 L1993.8,319.3 L1995.8,317.5 L1997.8,315.7 L1999.8,313.9 L2001.8,312.2 L2003.8,310.4 L2005.8,308.6" fill="none" stroke="#fd3f3f" stroke-width="10.3" stroke-linejoin="round"/>
<circle cx="267.8" cy="203.0" r="16.8" fill="#fd3f3f"/>
<circle cx="392.1" cy="216.0" r="16.8" fill="#fd3f3f"/>
<circle cx="516.4" cy="250.0" r="16.8" fill="#fd3f3f"/>
<circle cx="640.6" cy="310.5" r="16.8" fill="#fd3f3f"/>
<circle cx="764.9" cy="349.3" r="16.8" fill="#fd3f3f"/>
<circle cx="889.2" cy="368.5" r="16.8" fill="#fd3f3f"/>
<circle cx="1013.5" cy="422.2" r="16.8" fill="#fd3f3f"/>
<circle cx="1137.7" cy="498.2" r="16.8" fill="#fd3f3f"/>
<circle cx="1262.0" cy="498.8" r="16.8" fill="#fd3f3f"/>
<circle cx="1386.3" cy="412.5" r="16.8" fill="#fd3f3f"/>
<circle cx="1510.5" cy="350.7" r="16.8" fill="#fd3f3f"/>
<circle cx="1634.8" cy="346.6" r="16.8" fill="#fd3f3f"/>
<circle cx="1759.1" cy="432.0" r="16.8" fill="#fd3f3f"/>
<circle cx="1883.4" cy="476.9" r="16.8" fill="#fd3f3f"/>
<circle cx="2007.7" cy="307.0" r="16.8" fill="#fd3f3f"/>
<path d="M267.8,237.0 L269.8,236.4 L271.8,235.8 L273.8,235.1 L275.8,234.5 L277.8,233.9 L279.8,233.3 L281.8,232.7 L283.8,232.0 L285.8,231.4 L287.8,230.8 L289.8,230.2 L291.8,229.6 L293.8,229.0 L295.8,228.4 L297.8,227.9 L299.8,227.3 L301.8,226.7 L303.8,226.1 L305.8,225.6 L307.8,225.0 L309.8,224.4 L311.8,223.9 L313.8,223.4 L315.8,222.8 L317.8,222.3 L319.8,221.8 L321.8,221.3 L323.8,220.8 L325.8,220.3 L327.8,219.8 L329.8,219.4 L331.8,218.9 L333.8,218.5 L335.8,218.1 L337.8,217.6 L339.8,217.2 L341.8,216.8 L343.8,216.4 L345.8,216.1 L347.8,215.7 L349.8,215.4 L351.8,215.0 L353.8,214.7 L355.8,214.4 L357.8,214.1 L359.8,213.9 L361.8,213.6 L363.8,213.4 L365.8,213.1 L367.8,212.9 L369.8,212.8 L371.8,212.6 L373.8,212.4 L375.8,212.3 L377.8,212.2 L379.8,212.0 L381.8,212.0 L383.8,211.9 L385.8,211.8 L387.8,211.8 L389.8,211.7 L391.8,211.7 L393.8,211.7 L395.8,211.7 L397.8,211.7 L399.8,211.8 L401.8,211.8 L403.8,211.9 L405.8,211.9 L407.8,212.0 L409.8,212.1 L411.8,212.2 L413.8,212.4 L415.8,212.5 L417.8,212.6 L419.8,212.8 L421.8,213.0 L423.8,213.1 L425.8,213.3 L427.8,213.5 L429.8,213.7 L431.8,213.9 L433.8,214.2 L435.8,214.4 L437.8,214.6 L439.8,214.9 L441.8,215.1 L443.8,215.4 L445.8,215.7 L447.8,216.0 L449.8,216.3 L451.8,216.6 L453.8,216.9 L455.8,217.2 L457.8,217.5 L459.8,217.8 L461.8,218.2 L463.8,218.5 L465.8,218.9 L467.8,219.2 L469.8,219.6 L471.8,219.9 L473.8,220.3 L475.8,220.7 L477.8,221.0 L479.8,221.4 L481.8,221.8 L483.8,222.2 L485.8,222.6 L487.8,223.0 L489.8,223.4 L491.8,223.8 L493.8,224.3 L495.8,224.7 L497.8,225.1 L499.8,225.6 L501.8,226.0 L503.8,226.5 L505.8,226.9 L507.8,227.4 L509.8,227.9 L511.8,228.3 L513.8,228.8 L515.8,229.3 L517.8,229.8 L519.8,230.3 L521.8,230.8 L523.8,231.4 L525.8,231.9 L527.8,232.4 L529.8,233.0 L531.8,233.5 L533.8,234.1 L535.8,234.6 L537.8,235.2 L539.8,235.8 L541.8,236.3 L543.8,236.9 L545.8,237.5 L547.8,238.1 L549.8,238.7 L551.8,239.4 L553.8,240.0 L555.8,240.6 L557.8,241.3 L559.8,241.9 L561.8,242.6 L563.8,243.2 L565.8,243.9 L567.8,244.6 L569.8,245.3 L571.8,246.0 L573.8,246.7 L575.8,247.4 L577.8,248.1 L579.8,248.8 L581.8,249.5 L583.8,250.3 L585.8,251.0 L587.8,251.8 L589.8,252.5 L591.8,253.3 L593.8,254.0 L595.8,254.8 L597.8,255.5 L599.8,256.3 L601.8,257.1 L603.8,257.8 L605.8,258.6 L607.8,259.4 L609.8,260.1 L611.8,260.9 L613.8,261.7 L615.8,262.5 L617.8,263.2 L619.8,264.0 L621.8,264.8 L623.8,265.6 L625.8,266.3 L627.8,267.1 L629.8,267.9 L631.8,268.7 L633.8,269.4 L635.8,270.2 L637.8,270.9 L639.8,271.7 L641.8,272.5 L643.8,273.2 L645.8,274.0 L647.8,274.7 L649.8,275.4 L651.8,276.2 L653.8,276.9 L655.8,277.6 L657.8,278.3 L659.8,279.0 L661.8,279.7 L663.8,280.4 L665.8,281.1 L667.8,281.8 L669.8,282.5 L671.8,283.1 L673.8,283.8 L675.8,284.4 L677.8,285.1 L679.8,285.7 L681.8,286.3 L683.8,287.0 L685.8,287.6 L687.8,288.2 L689.8,288.8 L691.8,289.4 L693.8,290.0 L695.8,290.6 L697.8,291.1 L699.8,291.7 L701.8,292.3 L703.8,292.8 L705.8,293.4 L707.8,293.9 L709.8,294.5 L711.8,295.0 L713.8,295.5 L715.8,296.0 L717.8,296.6 L719.8,297.1 L721.8,297.6 L723.8,298.1 L725.8,298.6 L727.8,299.1 L729.8,299.6 L731.8,300.0 L733.8,300.5 L735.8,301.0 L737.8,301.5 L739.8,301.9 L741.8,302.4 L743.8,302.8 L745.8,303.3 L747.8,303.7 L749.8,304.2 L751.8,304.6 L753.8,305.1 L755.8,305.5 L757.8,305.9 L759.8,306.3 L761.8,306.8 L763.8,307.2 L765.8,307.6 L767.8,308.0 L769.8,308.4 L771.8,308.8 L773.8,309.2 L775.8,309.6 L777.8,310.0 L779.8,310.4 L781.8,310.8 L783.8,311.2 L785.8,311.6 L787.8,312.0 L789.8,312.4 L791.8,312.8 L793.8,313.1 L795.8,313.5 L797.8,313.9 L799.8,314.3 L801.8,314.7 L803.8,315.1 L805.8,315.5 L807.8,315.9 L809.8,316.3 L811.8,316.7 L813.8,317.1 L815.8,317.5 L817.8,317.9 L819.8,318.3 L821.8,318.7 L823.8,319.2 L825.8,319.6 L827.8,320.0 L829.8,320.5 L831.8,320.9 L833.8,321.3 L835.8,321.8 L837.8,322.2 L839.8,322.7 L841.8,323.2 L843.8,323.6 L845.8,324.1 L847.8,324.6 L849.8,325.1 L851.8,325.6 L853.8,326.1 L855.8,326.6 L857.8,327.1 L859.8,327.7 L861.8,328.2 L863.8,328.8 L865.8,329.3 L867.8,329.9 L869.8,330.5 L871.8,331.0 L873.8,331.6 L875.8,332.2 L877.8,332.9 L879.8,333.5 L881.8,334.1 L883.8,334.7 L885.8,335.4 L887.8,336.1 L889.8,336.7 L891.8,337.4 L893.8,338.1 L895.8,338.8 L897.8,339.5 L899.8,340.2 L901.8,340.9 L903.8,341.7 L905.8,342.4 L907.8,343.2 L909.8,344.0 L911.8,344.7 L913.8,345.5 L915.8,346.3 L917.8,347.1 L919.8,347.9 L921.8,348.8 L923.8,349.6 L925.8,350.4 L927.8,351.3 L929.8,352.2 L931.8,353.1 L933.8,353.9 L935.8,354.8 L937.8,355.7 L939.8,356.7 L941.8,357.6 L943.8,358.5 L945.8,359.5 L947.8,360.5 L949.8,361.4 L951.8,362.4 L953.8,363.4 L955.8,364.4 L957.8,365.4 L959.8,366.4 L961.8,367.5 L963.8,368.5 L965.8,369.6 L967.8,370.7 L969.8,371.7 L971.8,372.8 L973.8,373.9 L975.8,375.0 L977.8,376.2 L979.8,377.3 L981.8,378.4 L983.8,379.6 L985.8,380.7 L987.8,381.9 L989.8,383.1 L991.8,384.2 L993.8,385.4 L995.8,386.6 L997.8,387.8 L999.8,389.0 L1001.8,390.2 L1003.8,391.5 L1005.8,392.7 L1007.8,393.9 L1009.8,395.2 L1011.8,396.4 L1013.8,397.7 L1015.8,398.9 L1017.8,400.2 L1019.8,401.5 L1021.8,402.7 L1023.8,404.0 L1025.8,405.3 L1027.8,406.6 L1029.8,407.8 L1031.8,409.1 L1033.8,410.4 L1035.8,411.7 L1037.8,413.0 L1039.8,414.3 L1041.8,415.6 L1043.8,416.9 L1045.8,418.2 L1047.8,419.5 L1049.8,420.8 L1051.8,422.2 L1053.8,423.5 L1055.8,424.8 L1057.8,426.1 L1059.8,427.4 L1061.8,428.7 L1063.8,430.0 L1065.8,431.3 L1067.8,432.6 L1069.8,433.9 L1071.8,435.2 L1073.8,436.6 L1075.8,437.9 L1077.8,439.1 L1079.8,440.4 L1081.8,441.7 L1083.8,443.0 L1085.8,444.3 L1087.8,445.6 L1089.8,446.8 L1091.8,448.1 L1093.8,449.4 L1095.8,450.6 L1097.8,451.8 L1099.8,453.1 L1101.8,454.3 L1103.8,455.5 L1105.8,456.7 L1107.8,457.9 L1109.8,459.1 L1111.8,460.3 L1113.8,461.5 L1115.8,462.6 L1117.8,463.8 L1119.8,464.9 L1121.8,466.0 L1123.8,467.1 L1125.8,468.2 L1127.8,469.3 L1129.8,470.3 L1131.8,471.4 L1133.8,472.4 L1135.8,473.4 L1137.8,474.5 L1139.8,475.4 L1141.8,476.4 L1143.8,477.4 L1145.8,478.3 L1147.8,479.2 L1149.8,480.1 L1151.8,481.0 L1153.8,481.9 L1155.8,482.7 L1157.8,483.5 L1159.8,484.3 L1161.8,485.1 L1163.8,485.9 L1165.8,486.6 L1167.8,487.3 L1169.8,488.0 L1171.8,488.7 L1173.8,489.3 L1175.8,489.9 L1177.8,490.5 L1179.8,491.1 L1181.8,491.6 L1183.8,492.1 L1185.8,492.6 L1187.8,493.0 L1189.8,493.4 L1191.8,493.8 L1193.8,494.1 L1195.8,494.4 L1197.8,494.7 L1199.8,494.9 L1201.8,495.1 L1203.8,495.3 L1205.8,495.4 L1207.8,495.5 L1209.8,495.5 L1211.8,495.5 L1213.8,495.5 L1215.8,495.4 L1217.8,495.3 L1219.8,495.2 L1221.8,495.0 L1223.8,494.7 L1225.8,494.5 L1227.8,494.2 L1229.8,493.8 L1231.8,493.5 L1233.8,493.1 L1235.8,492.6 L1237.8,492.2 L1239.8,491.7 L1241.8,491.2 L1243.8,490.6 L1245.8,490.0 L1247.8,489.4 L1249.8,488.7 L1251.8,488.1 L1253.8,487.4 L1255.8,486.6 L1257.8,485.9 L1259.8,485.1 L1261.8,484.3 L1263.8,483.4 L1265.8,482.6 L1267.8,481.7 L1269.8,480.8 L1271.8,479.9 L1273.8,478.9 L1275.8,478.0 L1277.8,477.0 L1279.8,476.0 L1281.8,474.9 L1283.8,473.9 L1285.8,472.8 L1287.8,471.7 L1289.8,470.6 L1291.8,469.5 L1293.8,468.4 L1295.8,467.2 L1297.8,466.1 L1299.8,464.9 L1301.8,463.7 L1303.8,462.5 L1305.8,461.2 L1307.8,460.0 L1309.8,458.8 L1311.8,457.5 L1313.8,456.2 L1315.8,455.0 L1317.8,453.7 L1319.8,452.4 L1321.8,451.1 L1323.8,449.7 L1325.8,448.4 L1327.8,447.1 L1329.8,445.8 L1331.8,444.4 L1333.8,443.1 L1335.8,441.7 L1337.8,440.4 L1339.8,439.0 L1341.8,437.7 L1343.8,436.3 L1345.8,434.9 L1347.8,433.6 L1349.8,432.2 L1351.8,430.8 L1353.8,429.5 L1355.8,428.1 L1357.8,426.8 L1359.8,425.4 L1361.8,424.0 L1363.8,422.7 L1365.8,421.3 L1367.8,420.0 L1369.8,418.7 L1371.8,417.3 L1373.8,416.0 L1375.8,414.7 L1377.8,413.3 L1379.8,412.0 L1381.8,410.7 L1383.8,409.4 L1385.8,408.1 L1387.8,406.8 L1389.8,405.5 L1391.8,404.2 L1393.8,402.9 L1395.8,401.6 L1397.8,400.4 L1399.8,399.1 L1401.8,397.9 L1403.8,396.6 L1405.8,395.4 L1407.8,394.1 L1409.8,392.9 L1411.8,391.7 L1413.8,390.5 L1415.8,389.3 L1417.8,388.1 L1419.8,386.9 L1421.8,385.7 L1423.8,384.6 L1425.8,383.4 L1427.8,382.3 L1429.8,381.1 L1431.8,380.0 L1433.8,378.9 L1435.8,377.8 L1437.8,376.7 L1439.8,375.6 L1441.8,374.5 L1443.8,373.4 L1445.8,372.4 L1447.8,371.3 L1449.8,370.3 L1451.8,369.3 L1453.8,368.3 L1455.8,367.3 L1457.8,366.3 L1459.8,365.3 L1461.8,364.3 L1463.8,363.4 L1465.8,362.5 L1467.8,361.5 L1469.8,360.6 L1471.8,359.7 L1473.8,358.8 L1475.8,358.0 L1477.8,357.1 L1479.8,356.3 L1481.8,355.4 L1483.8,354.6 L1485.8,353.8 L1487.8,353.0 L1489.8,352.2 L1491.8,351.5 L1493.8,350.7 L1495.8,350.0 L1497.8,349.3 L1499.8,348.5 L1501.8,347.9 L1503.8,347.2 L1505.8,346.5 L1507.8,345.9 L1509.8,345.2 L1511.8,344.6 L1513.8,344.0 L1515.8,343.4 L1517.8,342.8 L1519.8,342.3 L1521.8,341.7 L1523.8,341.2 L1525.8,340.7 L1527.8,340.2 L1529.8,339.7 L1531.8,339.2 L1533.8,338.8 L1535.8,338.3 L1537.8,337.9 L1539.8,337.5 L1541.8,337.1 L1543.8,336.7 L1545.8,336.4 L1547.8,336.0 L1549.8,335.7 L1551.8,335.4 L1553.8,335.1 L1555.8,334.9 L1557.8,334.6 L1559.8,334.4 L1561.8,334.1 L1563.8,333.9 L1565.8,333.7 L1567.8,333.6 L1569.8,333.4 L1571.8,333.3 L1573.8,333.2 L1575.8,333.0 L1577.8,333.0 L1579.8,332.9 L1581.8,332.9 L1583.8,332.8 L1585.8,332.8 L1587.8,332.8 L1589.8,332.8 L1591.8,332.9 L1593.8,333.0 L1595.8,333.0 L1597.8,333.1 L1599.8,333.3 L1601.8,333.4 L1603.8,333.6 L1605.8,333.8 L1607.8,334.0 L1609.8,334.2 L1611.8,334.4 L1613.8,334.7 L1615.8,335.0 L1617.8,335.3 L1619.8,335.6 L1621.8,335.9 L1623.8,336.3 L1625.8,336.7 L1627.8,337.1 L1629.8,337.5 L1631.8,338.0 L1633.8,338.4 L1635.8,338.9 L1637.8,339.4 L1639.8,340.0 L1641.8,340.5 L1643.8,341.1 L1645.8,341.7 L1647.8,342.3 L1649.8,343.0 L1651.8,343.6 L1653.8,344.3 L1655.8,345.0 L1657.8,345.8 L1659.8,346.5 L1661.8,347.3 L1663.8,348.1 L1665.8,349.0 L1667.8,349.8 L1669.8,350.7 L1671.8,351.6 L1673.8,352.5 L1675.8,353.5 L1677.8,354.5 L1679.8,355.5 L1681.8,356.5 L1683.8,357.6 L1685.8,358.6 L1687.8,359.7 L1689.8,360.9 L1691.8,362.0 L1693.8,363.2 L1695.8,364.4 L1697.8,365.7 L1699.8,367.0 L1701.8,368.3 L1703.8,369.6 L1705.8,370.9 L1707.8,372.3 L1709.8,373.7 L1711.8,375.2 L1713.8,376.7 L1715.8,378.2 L1717.8,379.7 L1719.8,381.3 L1721.8,382.8 L1723.8,384.5 L1725.8,386.1 L1727.8,387.8 L1729.8,389.5 L1731.8,391.3 L1733.8,393.1 L1735.8,394.9 L1737.8,396.7 L1739.8,398.6 L1741.8,400.5 L1743.8,402.5 L1745.8,404.5 L1747.8,406.5 L1749.8,408.5 L1751.8,410.6 L1753.8,412.7 L1755.8,414.9 L1757.8,417.1 L1759.8,419.3 L1761.8,421.5 L1763.8,423.8 L1765.8,426.2 L1767.8,428.5 L1769.8,430.9 L1771.8,433.3 L1773.8,435.8 L1775.8,438.2 L1777.8,440.7 L1779.8,443.2 L1781.8,445.8 L1783.8,448.4 L1785.8,450.9 L1787.8,453.6 L1789.8,456.2 L1791.8,458.8 L1793.8,461.5 L1795.8,464.2 L1797.8,466.9 L1799.8,469.6 L1801.8,472.3 L1803.8,475.0 L1805.8,477.7 L1807.8,480.4 L1809.8,483.1 L1811.8,485.7 L1813.8,488.2 L1815.8,490.7 L1817.8,493.0 L1819.8,495.1 L1821.8,497.2 L1823.8,499.0 L1825.8,500.6 L1827.8,502.1 L1829.8,503.3 L1831.8,504.2 L1833.8,504.9 L1835.8,505.3 L1837.8,505.5 L1839.8,505.4 L1841.8,505.0 L1843.8,504.4 L1845.8,503.6 L1847.8,502.6 L1849.8,501.5 L1851.8,500.2 L1853.8,498.7 L1855.8,497.0 L1857.8,495.1 L1859.8,492.8 L1861.8,490.2 L1863.8,487.4 L1865.8,484.3 L1867.8,481.0 L1869.8,477.4 L1871.8,473.7 L1873.8,469.9 L1875.8,466.0 L1877.8,462.0 L1879.8,457.9 L1881.8,453.8 L1883.8,449.7 L1885.8,445.6 L1887.8,441.6 L1889.8,437.6 L1891.8,433.8 L1893.8,430.1 L1895.8,426.4 L1897.8,422.9 L1899.8,419.4 L1901.8,416.0 L1903.8,412.7 L1905.8,409.5 L1907.8,406.4 L1909.8,403.4 L1911.8,400.4 L1913.8,397.5 L1915.8,394.6 L1917.8,391.8 L1919.8,389.1 L1921.8,386.5 L1923.8,383.9 L1925.8,381.3 L1927.8,378.8 L1929.8,376.4 L1931.8,374.0 L1933.8,371.6 L1935.8,369.3 L1937.8,367.0 L1939.8,364.8 L1941.8,362.6 L1943.8,360.4 L1945.8,358.2 L1947.8,356.1 L1949.8,354.0 L1951.8,351.9 L1953.8,349.8 L1955.8,347.8 L1957.8,345.7 L1959.8,343.7 L1961.8,341.7 L1963.8,339.7 L1965.8,337.7 L1967.8,335.7 L1969.8,333.7 L1971.8,331.7 L1973.8,329.7 L1975.8,327.8 L1977.8,325.8 L1979.8,323.9 L1981.8,321.9 L1983.8,320.0 L1985.8,318.0 L1987.8,316.1 L1989.8,314.2 L1991.8,312.2 L1993.8,310.3 L1995.8,308.4 L1997.8,306.5 L1999.8,304.5 L2001.8,302.6 L2003.8,300.7 L2005.8,298.8 L2007.8,296.9" fill="none" stroke="#0767e0" stroke-width="10.3" stroke-linejoin="round"/>
<path d="M267.8,213.3 L287.8,248.8 L247.8,248.8 Z" fill="#0767e0"/>
<path d="M367.2,189.3 L387.2,224.8 L347.2,224.8 Z" fill="#0767e0"/>
<path d="M466.6,195.3 L486.6,230.8 L446.6,230.8 Z" fill="#0767e0"/>
<path d="M566.1,220.3 L586.1,255.8 L546.1,255.8 Z" fill="#0767e0"/>
<path d="M665.5,257.3 L685.5,292.8 L645.5,292.8 Z" fill="#0767e0"/>
<path d="M764.9,283.7 L784.9,319.2 L744.9,319.2 Z" fill="#0767e0"/>
<path d="M864.3,305.2 L884.3,340.7 L844.3,340.7 Z" fill="#0767e0"/>
<path d="M963.7,344.8 L983.7,380.3 L943.7,380.3 Z" fill="#0767e0"/>
<path d="M1063.2,405.9 L1083.2,441.4 L1043.2,441.4 Z" fill="#0767e0"/>
<path d="M1162.6,461.7 L1182.6,497.2 L1142.6,497.2 Z" fill="#0767e0"/>
<path d="M1262.0,460.5 L1282.0,496.0 L1242.0,496.0 Z" fill="#0767e0"/>
<path d="M1361.4,400.6 L1381.4,436.1 L1341.4,436.1 Z" fill="#0767e0"/>
<path d="M1460.8,341.1 L1480.8,376.6 L1440.8,376.6 Z" fill="#0767e0"/>
<path d="M1560.3,310.6 L1580.3,346.1 L1540.3,346.1 Z" fill="#0767e0"/>
<path d="M1659.7,322.8 L1679.7,358.3 L1639.7,358.3 Z" fill="#0767e0"/>
<path d="M1759.1,394.8 L1779.1,430.3 L1739.1,430.3 Z" fill="#0767e0"/>
<path d="M1858.5,470.6 L1878.5,506.1 L1838.5,506.1 Z" fill="#0767e0"/>
<path d="M1957.9,321.9 L1977.9,357.4 L1937.9,357.4 Z" fill="#0767e0"/>
<path d="M267.8,555.6 L269.8,555.3 L271.8,554.9 L273.8,554.6 L275.8,554.3 L277.8,554.0 L279.8,553.7 L281.8,553.4 L283.8,553.0 L285.8,552.7 L287.8,552.4 L289.8,552.1 L291.8,551.8 L293.8,551.5 L295.8,551.2 L297.8,550.9 L299.8,550.7 L301.8,550.4 L303.8,550.1 L305.8,549.8 L307.8,549.5 L309.8,549.2 L311.8,548.9 L313.8,548.7 L315.8,548.4 L317.8,548.1 L319.8,547.8 L321.8,547.6 L323.8,547.3 L325.8,547.0 L327.8,546.7 L329.8,546.5 L331.8,546.2 L333.8,545.9 L335.8,545.7 L337.8,545.4 L339.8,545.1 L341.8,544.9 L343.8,544.6 L345.8,544.3 L347.8,544.1 L349.8,543.8 L351.8,543.6 L353.8,543.3 L355.8,543.1 L357.8,542.9 L359.8,542.6 L361.8,542.4 L363.8,542.2 L365.8,541.9 L367.8,541.7 L369.8,541.5 L371.8,541.3 L373.8,541.1 L375.8,540.9 L377.8,540.7 L379.8,540.5 L381.8,540.3 L383.8,540.1 L385.8,539.9 L387.8,539.7 L389.8,539.5 L391.8,539.3 L393.8,539.1 L395.8,538.9 L397.8,538.7 L399.8,538.6 L401.8,538.4 L403.8,538.2 L405.8,538.0 L407.8,537.9 L409.8,537.7 L411.8,537.5 L413.8,537.4 L415.8,537.2 L417.8,537.0 L419.8,536.9 L421.8,536.7 L423.8,536.6 L425.8,536.5 L427.8,536.4 L429.8,536.3 L431.8,536.2 L433.8,536.1 L435.8,536.1 L437.8,536.0 L439.8,536.0 L441.8,535.9 L443.8,535.9 L445.8,535.9 L447.8,535.9 L449.8,535.9 L451.8,535.9 L453.8,535.9 L455.8,535.9 L457.8,536.0 L459.8,536.0 L461.8,536.0 L463.8,536.1 L465.8,536.1 L467.8,536.2 L469.8,536.3 L471.8,536.3 L473.8,536.4 L475.8,536.5 L477.8,536.5 L479.8,536.6 L481.8,536.7 L483.8,536.8 L485.8,536.9 L487.8,536.9 L489.8,537.0 L491.8,537.1 L493.8,537.2 L495.8,537.3 L497.8,537.5 L499.8,537.6 L501.8,537.8 L503.8,538.0 L505.8,538.2 L507.8,538.4 L509.8,538.6 L511.8,538.9 L513.8,539.1 L515.8,539.4 L517.8,539.7 L519.8,540.0 L521.8,540.3 L523.8,540.6 L525.8,540.9 L527.8,541.3 L529.8,541.7 L531.8,542.0 L533.8,542.4 L535.8,542.8 L537.8,543.2 L539.8,543.6 L541.8,544.0 L543.8,544.4 L545.8,544.8 L547.8,545.3 L549.8,545.7 L551.8,546.2 L553.8,546.6 L555.8,547.1 L557.8,547.5 L559.8,548.0 L561.8,548.5 L563.8,549.0 L565.8,549.4 L567.8,549.9 L569.8,550.4 L571.8,551.0 L573.8,551.6 L575.8,552.2 L577.8,552.8 L579.8,553.4 L581.8,554.1 L583.8,554.8 L585.8,555.5 L587.8,556.3 L589.8,557.1 L591.8,557.9 L593.8,558.7 L595.8,559.5 L597.8,560.4 L599.8,561.3 L601.8,562.2 L603.8,563.1 L605.8,564.1 L607.8,565.0 L609.8,566.0 L611.8,567.0 L613.8,568.1 L615.8,569.1 L617.8,570.2 L619.8,571.3 L621.8,572.4 L623.8,573.5 L625.8,574.6 L627.8,575.8 L629.8,576.9 L631.8,578.1 L633.8,579.3 L635.8,580.5 L637.8,581.7 L639.8,583.0 L641.8,584.2 L643.8,585.5 L645.8,586.9 L647.8,588.2 L649.8,589.6 L651.8,591.0 L653.8,592.5 L655.8,594.0 L657.8,595.5 L659.8,597.1 L661.8,598.7 L663.8,600.3 L665.8,601.9 L667.8,603.6 L669.8,605.4 L671.8,607.1 L673.8,608.9 L675.8,610.8 L677.8,612.6 L679.8,614.5 L681.8,616.4 L683.8,618.4 L685.8,620.4 L687.8,622.4 L689.8,624.5 L691.8,626.6 L693.8,628.7 L695.8,630.9 L697.8,633.1 L699.8,635.3 L701.8,637.6 L703.8,639.9 L705.8,642.2 L707.8,644.6 L709.8,647.0 L711.8,649.4 L713.8,651.9 L715.8,654.4 L717.8,656.9 L719.8,659.6 L721.8,662.3 L723.8,665.0 L725.8,667.9 L727.8,670.7 L729.8,673.7 L731.8,676.7 L733.8,679.7 L735.8,682.8 L737.8,686.0 L739.8,689.2 L741.8,692.4 L743.8,695.6 L745.8,698.9 L747.8,702.2 L749.8,705.6 L751.8,708.9 L753.8,712.3 L755.8,715.8 L757.8,719.3 L759.8,722.9 L761.8,726.7 L763.8,730.5 L765.8,734.5 L767.8,738.5 L769.8,742.8 L771.8,747.2 L773.8,751.8 L775.8,756.5 L777.8,761.2 L779.8,766.1 L781.8,770.9 L783.8,775.7 L785.8,780.5 L787.8,785.2 L789.8,789.7 L791.8,794.1 L793.8,798.5 L795.8,802.7 L797.8,807.0 L799.8,811.3 L801.8,815.6 L803.8,820.0 L805.8,824.5 L807.8,829.4 L809.8,834.4 L811.8,839.6 L813.8,844.8 L815.8,849.9 L817.8,854.8 L819.8,859.3 L821.8,863.3 L823.8,866.8 L825.8,869.8 L827.8,872.4 L829.8,874.2 L831.8,875.4 L833.8,875.9 L835.8,876.0 L837.8,875.8 L839.8,875.3 L841.8,874.2 L843.8,872.3 L845.8,869.5 L847.8,866.5 L849.8,863.2 L851.8,859.8 L853.8,856.2 L855.8,852.5 L857.8,848.7 L859.8,844.8 L861.8,840.9 L863.8,836.9 L865.8,832.6 L867.8,828.2 L869.8,823.7 L871.8,819.3 L873.8,815.1 L875.8,811.1 L877.8,807.1 L879.8,803.1 L881.8,799.1 L883.8,795.1 L885.8,791.1 L887.8,787.1 L889.8,783.1 L891.8,779.1 L893.8,775.1 L895.8,771.0 L897.8,767.0 L899.8,763.0 L901.8,759.0 L903.8,755.1 L905.8,751.4 L907.8,747.7 L909.8,744.2 L911.8,740.8 L913.8,737.6 L915.8,734.4 L917.8,731.4 L919.8,728.4 L921.8,725.5 L923.8,722.7 L925.8,720.0 L927.8,717.4 L929.8,714.8 L931.8,712.3 L933.8,709.8 L935.8,707.4 L937.8,705.1 L939.8,702.7 L941.8,700.4 L943.8,698.2 L945.8,696.0 L947.8,693.8 L949.8,691.6 L951.8,689.4 L953.8,687.3 L955.8,685.3 L957.8,683.2 L959.8,681.2 L961.8,679.2 L963.8,677.2 L965.8,675.3 L967.8,673.4 L969.8,671.5 L971.8,669.6 L973.8,667.8 L975.8,665.9 L977.8,664.2 L979.8,662.4 L981.8,660.6 L983.8,658.8 L985.8,657.0 L987.8,655.2 L989.8,653.4 L991.8,651.7 L993.8,650.0 L995.8,648.3 L997.8,646.6 L999.8,645.0 L1001.8,643.5 L1003.8,641.9 L1005.8,640.5 L1007.8,639.1 L1009.8,637.7 L1011.8,636.5 L1013.8,635.3 L1015.8,634.2 L1017.8,633.1 L1019.8,632.0 L1021.8,631.0 L1023.8,630.0 L1025.8,629.0 L1027.8,628.1 L1029.8,627.1 L1031.8,626.2 L1033.8,625.3 L1035.8,624.4 L1037.8,623.5 L1039.8,622.6 L1041.8,621.7 L1043.8,620.8 L1045.8,619.8 L1047.8,618.9 L1049.8,618.0 L1051.8,617.0 L1053.8,616.0 L1055.8,615.0 L1057.8,613.9 L1059.8,612.8 L1061.8,611.7 L1063.8,610.5 L1065.8,609.3 L1067.8,608.1 L1069.8,606.9 L1071.8,605.7 L1073.8,604.5 L1075.8,603.3 L1077.8,602.1 L1079.8,600.9 L1081.8,599.8 L1083.8,598.7 L1085.8,597.6 L1087.8,596.6 L1089.8,595.6 L1091.8,594.7 L1093.8,593.7 L1095.8,592.8 L1097.8,592.0 L1099.8,591.1 L1101.8,590.2 L1103.8,589.4 L1105.8,588.6 L1107.8,587.8 L1109.8,587.1 L1111.8,586.3 L1113.8,585.6 L1115.8,584.9 L1117.8,584.2 L1119.8,583.5 L1121.8,582.8 L1123.8,582.2 L1125.8,581.6 L1127.8,581.0 L1129.8,580.4 L1131.8,579.8 L1133.8,579.2 L1135.8,578.6 L1137.8,578.1 L1139.8,577.6 L1141.8,577.1 L1143.8,576.5 L1145.8,576.1 L1147.8,575.6 L1149.8,575.1 L1151.8,574.6 L1153.8,574.2 L1155.8,573.7 L1157.8,573.3 L1159.8,572.9 L1161.8,572.5 L1163.8,572.1 L1165.8,571.6 L1167.8,571.2 L1169.8,570.9 L1171.8,570.5 L1173.8,570.1 L1175.8,569.7 L1177.8,569.3 L1179.8,569.0 L1181.8,568.6 L1183.8,568.2 L1185.8,567.9 L1187.8,567.5 L1189.8,567.2 L1191.8,566.9 L1193.8,566.5 L1195.8,566.2 L1197.8,565.9 L1199.8,565.6 L1201.8,565.3 L1203.8,565.0 L1205.8,564.7 L1207.8,564.5 L1209.8,564.2 L1211.8,563.9 L1213.8,563.7 L1215.8,563.4 L1217.8,563.2 L1219.8,563.0 L1221.8,562.7 L1223.8,562.5 L1225.8,562.3 L1227.8,562.1 L1229.8,561.9 L1231.8,561.7 L1233.8,561.6 L1235.8,561.4 L1237.8,561.3 L1239.8,561.1 L1241.8,561.0 L1243.8,560.8 L1245.8,560.7 L1247.8,560.5 L1249.8,560.4 L1251.8,560.3 L1253.8,560.2 L1255.8,560.1 L1257.8,559.9 L1259.8,559.8 L1261.8,559.7 L1263.8,559.7 L1265.8,559.6 L1267.8,559.5 L1269.8,559.4 L1271.8,559.3 L1273.8,559.3 L1275.8,559.2 L1277.8,559.2 L1279.8,559.1 L1281.8,559.1 L1283.8,559.0 L1285.8,559.0 L1287.8,559.0 L1289.8,559.0 L1291.8,559.0 L1293.8,559.0 L1295.8,559.0 L1297.8,559.0 L1299.8,559.0 L1301.8,559.0 L1303.8,559.1 L1305.8,559.1 L1307.8,559.2 L1309.8,559.2 L1311.8,559.3 L1313.8,559.4 L1315.8,559.5 L1317.8,559.5 L1319.8,559.6 L1321.8,559.7 L1323.8,559.8 L1325.8,560.0 L1327.8,560.1 L1329.8,560.2 L1331.8,560.3 L1333.8,560.4 L1335.8,560.6 L1337.8,560.7 L1339.8,560.9 L1341.8,561.0 L1343.8,561.2 L1345.8,561.4 L1347.8,561.6 L1349.8,561.8 L1351.8,561.9 L1353.8,562.1 L1355.8,562.4 L1357.8,562.6 L1359.8,562.8 L1361.8,563.0 L1363.8,563.3 L1365.8,563.5 L1367.8,563.8 L1369.8,564.0 L1371.8,564.3 L1373.8,564.6 L1375.8,564.9 L1377.8,565.2 L1379.8,565.5 L1381.8,565.8 L1383.8,566.1 L1385.8,566.4 L1387.8,566.8 L1389.8,567.1 L1391.8,567.4 L1393.8,567.8 L1395.8,568.1 L1397.8,568.5 L1399.8,568.8 L1401.8,569.2 L1403.8,569.6 L1405.8,569.9 L1407.8,570.3 L1409.8,570.7 L1411.8,571.1 L1413.8,571.4 L1415.8,571.8 L1417.8,572.2 L1419.8,572.6 L1421.8,573.0 L1423.8,573.4 L1425.8,573.8 L1427.8,574.3 L1429.8,574.7 L1431.8,575.1 L1433.8,575.6 L1435.8,576.0 L1437.8,576.5 L1439.8,576.9 L1441.8,577.4 L1443.8,577.9 L1445.8,578.3 L1447.8,578.8 L1449.8,579.3 L1451.8,579.8 L1453.8,580.3 L1455.8,580.9 L1457.8,581.4 L1459.8,581.9 L1461.8,582.5 L1463.8,583.0 L1465.8,583.6 L1467.8,584.1 L1469.8,584.7 L1471.8,585.2 L1473.8,585.8 L1475.8,586.4 L1477.8,586.9 L1479.8,587.5 L1481.8,588.1 L1483.8,588.6 L1485.8,589.2 L1487.8,589.8 L1489.8,590.3 L1491.8,590.9 L1493.8,591.5 L1495.8,592.1 L1497.8,592.7 L1499.8,593.2 L1501.8,593.8 L1503.8,594.4 L1505.8,595.0 L1507.8,595.5 L1509.8,596.1 L1511.8,596.7 L1513.8,597.3 L1515.8,597.9 L1517.8,598.4 L1519.8,599.0 L1521.8,599.6 L1523.8,600.1 L1525.8,600.7 L1527.8,601.3 L1529.8,601.8 L1531.8,602.4 L1533.8,603.0 L1535.8,603.5 L1537.8,604.1 L1539.8,604.6 L1541.8,605.2 L1543.8,605.7 L1545.8,606.3 L1547.8,606.8 L1549.8,607.4 L1551.8,607.9 L1553.8,608.5 L1555.8,609.0 L1557.8,609.6 L1559.8,610.1 L1561.8,610.7 L1563.8,611.2 L1565.8,611.7 L1567.8,612.3 L1569.8,612.8 L1571.8,613.3 L1573.8,613.9 L1575.8,614.4 L1577.8,614.9 L1579.8,615.4 L1581.8,616.0 L1583.8,616.5 L1585.8,617.0 L1587.8,617.5 L1589.8,618.0 L1591.8,618.5 L1593.8,619.0 L1595.8,619.5 L1597.8,620.0 L1599.8,620.5 L1601.8,621.0 L1603.8,621.4 L1605.8,621.9 L1607.8,622.4 L1609.8,622.9 L1611.8,623.3 L1613.8,623.7 L1615.8,624.2 L1617.8,624.5 L1619.8,624.9 L1621.8,625.3 L1623.8,625.6 L1625.8,625.9 L1627.8,626.2 L1629.8,626.5 L1631.8,626.7 L1633.8,627.0 L1635.8,627.2 L1637.8,627.4 L1639.8,627.6 L1641.8,627.7 L1643.8,627.9 L1645.8,628.1 L1647.8,628.2 L1649.8,628.3 L1651.8,628.4 L1653.8,628.5 L1655.8,628.6 L1657.8,628.7 L1659.8,628.8 L1661.8,628.8 L1663.8,628.9 L1665.8,628.9 L1667.8,629.0 L1669.8,629.0 L1671.8,629.0 L1673.8,629.1 L1675.8,629.1 L1677.8,629.1 L1679.8,629.1 L1681.8,629.1 L1683.8,629.1 L1685.8,629.1 L1687.8,629.1 L1689.8,629.1 L1691.8,629.0 L1693.8,629.0 L1695.8,629.0 L1697.8,628.9 L1699.8,628.9 L1701.8,628.8 L1703.8,628.7 L1705.8,628.6 L1707.8,628.6 L1709.8,628.5 L1711.8,628.4 L1713.8,628.3 L1715.8,628.2 L1717.8,628.1 L1719.8,628.0 L1721.8,627.9 L1723.8,627.8 L1725.8,627.7 L1727.8,627.6 L1729.8,627.5 L1731.8,627.4 L1733.8,627.4 L1735.8,627.3 L1737.8,627.2 L1739.8,627.1 L1741.8,627.0 L1743.8,626.9 L1745.8,626.9 L1747.8,626.8 L1749.8,626.8 L1751.8,626.7 L1753.8,626.7 L1755.8,626.6 L1757.8,626.6 L1759.8,626.6 L1761.8,626.6 L1763.8,626.6 L1765.8,626.6 L1767.8,626.6 L1769.8,626.6 L1771.8,626.6 L1773.8,626.7 L1775.8,626.7 L1777.8,626.7 L1779.8,626.8 L1781.8,626.8 L1783.8,626.9 L1785.8,626.9 L1787.8,627.0 L1789.8,627.0 L1791.8,627.1 L1793.8,627.2 L1795.8,627.3 L1797.8,627.4 L1799.8,627.5 L1801.8,627.6 L1803.8,627.7 L1805.8,627.8 L1807.8,627.9 L1809.8,628.0 L1811.8,628.1 L1813.8,628.2 L1815.8,628.4 L1817.8,628.5 L1819.8,628.6 L1821.8,628.8 L1823.8,628.9 L1825.8,629.1 L1827.8,629.2 L1829.8,629.4 L1831.8,629.5 L1833.8,629.7 L1835.8,629.9 L1837.8,630.1 L1839.8,630.3 L1841.8,630.6 L1843.8,630.8 L1845.8,631.1 L1847.8,631.4 L1849.8,631.8 L1851.8,632.1 L1853.8,632.5 L1855.8,632.9 L1857.8,633.3 L1859.8,633.8 L1861.8,634.2 L1863.8,634.7 L1865.8,635.2 L1867.8,635.7 L1869.8,636.2 L1871.8,636.8 L1873.8,637.3 L1875.8,637.9 L1877.8,638.5 L1879.8,639.1 L1881.8,639.7 L1883.8,640.4 L1885.8,641.0 L1887.8,641.7 L1889.8,642.4 L1891.8,643.1 L1893.8,643.8 L1895.8,644.5 L1897.8,645.2 L1899.8,646.0 L1901.8,646.7 L1903.8,647.5 L1905.8,648.2 L1907.8,649.0 L1909.8,649.8 L1911.8,650.6 L1913.8,651.5 L1915.8,652.4 L1917.8,653.2 L1919.8,654.2 L1921.8,655.1 L1923.8,656.1 L1925.8,657.0 L1927.8,658.0 L1929.8,659.1 L1931.8,660.1 L1933.8,661.2 L1935.8,662.3 L1937.8,663.4 L1939.8,664.5 L1941.8,665.6 L1943.8,666.8 L1945.8,668.0 L1947.8,669.2 L1949.8,670.4 L1951.8,671.6 L1953.8,672.9 L1955.8,674.2 L1957.8,675.5 L1959.8,676.8 L1961.8,678.1 L1963.8,679.4 L1965.8,680.8 L1967.8,682.2 L1969.8,683.6 L1971.8,685.0 L1973.8,686.4 L1975.8,687.9 L1977.8,689.3 L1979.8,690.8 L1981.8,692.3 L1983.8,693.8 L1985.8,695.3 L1987.8,696.9 L1989.8,698.5 L1991.8,700.2 L1993.8,702.0 L1995.8,703.8 L1997.8,705.6 L1999.8,707.5 L2001.8,709.4 L2003.8,711.4 L2005.8,713.5 L2007.8,715.6" fill="none" stroke="#4e4e4e" stroke-width="10.3" stroke-linejoin="round"/>
<rect x="253.8" y="541.6" width="28.0" height="28.0" fill="#fff" stroke="#000" stroke-width="2.5"/>
<rect x="328.4" y="530.8" width="28.0" height="28.0" fill="#fff" stroke="#000" stroke-width="2.5"/>
<rect x="402.9" y="523.1" width="28.0" height="28.0" fill="#fff" stroke="#000" stroke-width="2.5"/>
<rect x="477.5" y="523.1" width="28.0" height="28.0" fill="#fff" stroke="#000" stroke-width="2.5"/>
<rect x="552.1" y="535.5" width="28.0" height="28.0" fill="#fff" stroke="#000" stroke-width="2.5"/>
<rect x="626.6" y="569.5" width="28.0" height="28.0" fill="#fff" stroke="#000" stroke-width="2.5"/>
<rect x="701.2" y="639.6" width="28.0" height="28.0" fill="#fff" stroke="#000" stroke-width="2.5"/>
<rect x="775.8" y="775.6" width="28.0" height="28.0" fill="#fff" stroke="#000" stroke-width="2.5"/>
<rect x="850.3" y="821.8" width="28.0" height="28.0" fill="#fff" stroke="#000" stroke-width="2.5"/>
<rect x="924.9" y="689.8" width="28.0" height="28.0" fill="#fff" stroke="#000" stroke-width="2.5"/>
<rect x="999.5" y="621.5" width="28.0" height="28.0" fill="#fff" stroke="#000" stroke-width="2.5"/>
<rect x="1074.0" y="582.5" width="28.0" height="28.0" fill="#fff" stroke="#000" stroke-width="2.5"/>
<rect x="1148.6" y="558.3" width="28.0" height="28.0" fill="#fff" stroke="#000" stroke-width="2.5"/>
<rect x="1223.1" y="547.3" width="28.0" height="28.0" fill="#fff" stroke="#000" stroke-width="2.5"/>
<rect x="1297.7" y="545.3" width="28.0" height="28.0" fill="#fff" stroke="#000" stroke-width="2.5"/>
<rect x="1372.3" y="552.5" width="28.0" height="28.0" fill="#fff" stroke="#000" stroke-width="2.5"/>
<rect x="1446.8" y="568.2" width="28.0" height="28.0" fill="#fff" stroke="#000" stroke-width="2.5"/>
<rect x="1521.4" y="589.4" width="28.0" height="28.0" fill="#fff" stroke="#000" stroke-width="2.5"/>
<rect x="1596.0" y="608.9" width="28.0" height="28.0" fill="#fff" stroke="#000" stroke-width="2.5"/>
<rect x="1670.5" y="615.1" width="28.0" height="28.0" fill="#fff" stroke="#000" stroke-width="2.5"/>
<rect x="1745.1" y="612.6" width="28.0" height="28.0" fill="#fff" stroke="#000" stroke-width="2.5"/>
<rect x="1819.7" y="615.7" width="28.0" height="28.0" fill="#fff" stroke="#000" stroke-width="2.5"/>
<rect x="1894.2" y="635.2" width="28.0" height="28.0" fill="#fff" stroke="#000" stroke-width="2.5"/>
<rect x="1968.8" y="679.0" width="28.0" height="28.0" fill="#fff" stroke="#000" stroke-width="2.5"/>
<path d="M267.8,590.8 L269.8,590.5 L271.8,590.2 L273.8,589.9 L275.8,589.5 L277.8,589.2 L279.8,588.9 L281.8,588.6 L283.8,588.3 L285.8,588.1 L287.8,587.8 L289.8,587.5 L291.8,587.2 L293.8,586.9 L295.8,586.6 L297.8,586.4 L299.8,586.1 L301.8,585.8 L303.8,585.6 L305.8,585.3 L307.8,585.0 L309.8,584.8 L311.8,584.5 L313.8,584.3 L315.8,584.0 L317.8,583.7 L319.8,583.5 L321.8,583.3 L323.8,583.0 L325.8,582.8 L327.8,582.5 L329.8,582.3 L331.8,582.0 L333.8,581.8 L335.8,581.6 L337.8,581.3 L339.8,581.1 L341.8,580.9 L343.8,580.6 L345.8,580.4 L347.8,580.2 L349.8,580.0 L351.8,579.8 L353.8,579.6 L355.8,579.4 L357.8,579.2 L359.8,579.0 L361.8,578.8 L363.8,578.6 L365.8,578.4 L367.8,578.2 L369.8,578.1 L371.8,577.9 L373.8,577.7 L375.8,577.6 L377.8,577.4 L379.8,577.2 L381.8,577.1 L383.8,576.9 L385.8,576.8 L387.8,576.6 L389.8,576.5 L391.8,576.4 L393.8,576.2 L395.8,576.1 L397.8,575.9 L399.8,575.8 L401.8,575.7 L403.8,575.5 L405.8,575.4 L407.8,575.3 L409.8,575.2 L411.8,575.0 L413.8,574.9 L415.8,574.8 L417.8,574.6 L419.8,574.5 L421.8,574.4 L423.8,574.3 L425.8,574.3 L427.8,574.2 L429.8,574.1 L431.8,574.1 L433.8,574.0 L435.8,574.0 L437.8,574.0 L439.8,574.0 L441.8,574.0 L443.8,574.0 L445.8,574.0 L447.8,574.0 L449.8,574.0 L451.8,574.0 L453.8,574.1 L455.8,574.1 L457.8,574.2 L459.8,574.2 L461.8,574.3 L463.8,574.4 L465.8,574.4 L467.8,574.5 L469.8,574.6 L471.8,574.7 L473.8,574.8 L475.8,574.9 L477.8,575.0 L479.8,575.1 L481.8,575.2 L483.8,575.3 L485.8,575.4 L487.8,575.5 L489.8,575.6 L491.8,575.7 L493.8,575.8 L495.8,576.0 L497.8,576.2 L499.8,576.4 L501.8,576.6 L503.8,576.9 L505.8,577.1 L507.8,577.4 L509.8,577.7 L511.8,578.1 L513.8,578.4 L515.8,578.8 L517.8,579.2 L519.8,579.6 L521.8,580.0 L523.8,580.4 L525.8,580.9 L527.8,581.4 L529.8,581.8 L531.8,582.3 L533.8,582.9 L535.8,583.4 L537.8,583.9 L539.8,584.5 L541.8,585.0 L543.8,585.6 L545.8,586.2 L547.8,586.8 L549.8,587.4 L551.8,588.0 L553.8,588.6 L555.8,589.2 L557.8,589.8 L559.8,590.5 L561.8,591.1 L563.8,591.8 L565.8,592.4 L567.8,593.1 L569.8,593.8 L571.8,594.5 L573.8,595.2 L575.8,596.0 L577.8,596.8 L579.8,597.6 L581.8,598.5 L583.8,599.4 L585.8,600.3 L587.8,601.3 L589.8,602.2 L591.8,603.3 L593.8,604.3 L595.8,605.4 L597.8,606.5 L599.8,607.6 L601.8,608.7 L603.8,609.9 L605.8,611.1 L607.8,612.4 L609.8,613.7 L611.8,615.0 L613.8,616.3 L615.8,617.7 L617.8,619.1 L619.8,620.5 L621.8,622.0 L623.8,623.4 L625.8,625.0 L627.8,626.5 L629.8,628.1 L631.8,629.7 L633.8,631.4 L635.8,633.0 L637.8,634.7 L639.8,636.5 L641.8,638.3 L643.8,640.1 L645.8,642.1 L647.8,644.1 L649.8,646.2 L651.8,648.3 L653.8,650.6 L655.8,652.9 L657.8,655.2 L659.8,657.6 L661.8,660.1 L663.8,662.6 L665.8,665.1 L667.8,667.7 L669.8,670.3 L671.8,672.9 L673.8,675.6 L675.8,678.3 L677.8,681.0 L679.8,683.7 L681.8,686.4 L683.8,689.2 L685.8,692.0 L687.8,694.9 L689.8,697.8 L691.8,700.7 L693.8,703.7 L695.8,706.7 L697.8,709.8 L699.8,712.9 L701.8,716.1 L703.8,719.4 L705.8,722.7 L707.8,726.1 L709.8,729.6 L711.8,733.2 L713.8,736.8 L715.8,740.6 L717.8,744.5 L719.8,748.6 L721.8,752.8 L723.8,757.3 L725.8,761.8 L727.8,766.5 L729.8,771.3 L731.8,776.1 L733.8,781.0 L735.8,786.0 L737.8,791.0 L739.8,796.0 L741.8,801.1 L743.8,806.4 L745.8,811.7 L747.8,817.3 L749.8,823.1 L751.8,829.1 L753.8,835.3 L755.8,841.8 L757.8,848.6 L759.8,855.5 L761.8,862.6 L763.8,869.8 L765.8,877.1 L767.8,884.3 L769.8,891.7 L771.8,899.4 L773.8,907.1 L775.8,914.8 L777.8,922.5 L779.8,930.0 L781.8,937.0 L783.8,943.4 L785.8,949.0 L787.8,953.6 L789.8,957.3 L791.8,959.2 L793.8,959.2 L795.8,957.3 L797.8,953.8 L799.8,948.9 L801.8,942.8 L803.8,935.6 L805.8,927.6 L807.8,919.2 L809.8,910.6 L811.8,902.3 L813.8,894.4 L815.8,886.6 L817.8,878.9 L819.8,871.3 L821.8,864.0 L823.8,857.1 L825.8,850.8 L827.8,844.8 L829.8,839.3 L831.8,834.0 L833.8,829.1 L835.8,824.2 L837.8,819.5 L839.8,814.8 L841.8,810.3 L843.8,806.0 L845.8,801.9 L847.8,798.1 L849.8,794.4 L851.8,790.7 L853.8,787.1 L855.8,783.3 L857.8,779.3 L859.8,775.2 L861.8,771.0 L863.8,767.1 L865.8,763.4 L867.8,759.8 L869.8,756.3 L871.8,752.9 L873.8,749.7 L875.8,746.5 L877.8,743.4 L879.8,740.4 L881.8,737.5 L883.8,734.7 L885.8,731.9 L887.8,729.2 L889.8,726.5 L891.8,723.9 L893.8,721.3 L895.8,718.7 L897.8,716.2 L899.8,713.7 L901.8,711.2 L903.8,708.7 L905.8,706.3 L907.8,703.8 L909.8,701.4 L911.8,699.1 L913.8,696.7 L915.8,694.4 L917.8,692.1 L919.8,689.9 L921.8,687.7 L923.8,685.6 L925.8,683.5 L927.8,681.5 L929.8,679.5 L931.8,677.6 L933.8,675.8 L935.8,674.0 L937.8,672.3 L939.8,670.7 L941.8,669.0 L943.8,667.4 L945.8,665.9 L947.8,664.3 L949.8,662.8 L951.8,661.3 L953.8,659.8 L955.8,658.3 L957.8,656.9 L959.8,655.5 L961.8,654.0 L963.8,652.7 L965.8,651.3 L967.8,649.9 L969.8,648.6 L971.8,647.3 L973.8,646.0 L975.8,644.7 L977.8,643.5 L979.8,642.2 L981.8,641.0 L983.8,639.8 L985.8,638.5 L987.8,637.3 L989.8,636.1 L991.8,634.9 L993.8,633.7 L995.8,632.5 L997.8,631.4 L999.8,630.2 L1001.8,629.1 L1003.8,628.0 L1005.8,627.0 L1007.8,625.9 L1009.8,624.9 L1011.8,623.9 L1013.8,622.9 L1015.8,622.0 L1017.8,621.1 L1019.8,620.2 L1021.8,619.3 L1023.8,618.5 L1025.8,617.6 L1027.8,616.8 L1029.8,616.0 L1031.8,615.3 L1033.8,614.5 L1035.8,613.8 L1037.8,613.1 L1039.8,612.4 L1041.8,611.7 L1043.8,611.1 L1045.8,610.4 L1047.8,609.8 L1049.8,609.2 L1051.8,608.7 L1053.8,608.1 L1055.8,607.6 L1057.8,607.1 L1059.8,606.6 L1061.8,606.1 L1063.8,605.7 L1065.8,605.3 L1067.8,605.0 L1069.8,604.7 L1071.8,604.3 L1073.8,604.0 L1075.8,603.7 L1077.8,603.4 L1079.8,603.0 L1081.8,602.7 L1083.8,602.3 L1085.8,601.8 L1087.8,601.4 L1089.8,600.8 L1091.8,600.3 L1093.8,599.7 L1095.8,599.2 L1097.8,598.6 L1099.8,598.0 L1101.8,597.3 L1103.8,596.7 L1105.8,596.0 L1107.8,595.4 L1109.8,594.7 L1111.8,594.0 L1113.8,593.3 L1115.8,592.6 L1117.8,591.9 L1119.8,591.2 L1121.8,590.5 L1123.8,589.8 L1125.8,589.1 L1127.8,588.4 L1129.8,587.7 L1131.8,587.0 L1133.8,586.3 L1135.8,585.7 L1137.8,585.0 L1139.8,584.3 L1141.8,583.6 L1143.8,583.0 L1145.8,582.4 L1147.8,581.7 L1149.8,581.1 L1151.8,580.5 L1153.8,580.0 L1155.8,579.4 L1157.8,578.9 L1159.8,578.4 L1161.8,577.9 L1163.8,577.4 L1165.8,577.0 L1167.8,576.5 L1169.8,576.1 L1171.8,575.6 L1173.8,575.2 L1175.8,574.8 L1177.8,574.4 L1179.8,574.0 L1181.8,573.6 L1183.8,573.2 L1185.8,572.8 L1187.8,572.5 L1189.8,572.1 L1191.8,571.8 L1193.8,571.4 L1195.8,571.1 L1197.8,570.8 L1199.8,570.4 L1201.8,570.1 L1203.8,569.8 L1205.8,569.6 L1207.8,569.3 L1209.8,569.0 L1211.8,568.7 L1213.8,568.5 L1215.8,568.3 L1217.8,568.0 L1219.8,567.8 L1221.8,567.6 L1223.8,567.4 L1225.8,567.2 L1227.8,567.0 L1229.8,566.8 L1231.8,566.6 L1233.8,566.5 L1235.8,566.3 L1237.8,566.2 L1239.8,566.0 L1241.8,565.9 L1243.8,565.7 L1245.8,565.6 L1247.8,565.5 L1249.8,565.4 L1251.8,565.3 L1253.8,565.1 L1255.8,565.0 L1257.8,564.9 L1259.8,564.8 L1261.8,564.8 L1263.8,564.7 L1265.8,564.6 L1267.8,564.5 L1269.8,564.4 L1271.8,564.4 L1273.8,564.3 L1275.8,564.2 L1277.8,564.2 L1279.8,564.1 L1281.8,564.1 L1283.8,564.0 L1285.8,564.0 L1287.8,564.0 L1289.8,563.9 L1291.8,563.9 L1293.8,563.9 L1295.8,563.9 L1297.8,563.9 L1299.8,563.8 L1301.8,563.8 L1303.8,563.8 L1305.8,563.9 L1307.8,563.9 L1309.8,563.9 L1311.8,563.9 L1313.8,563.9 L1315.8,564.0 L1317.8,564.0 L1319.8,564.0 L1321.8,564.1 L1323.8,564.1 L1325.8,564.1 L1327.8,564.2 L1329.8,564.2 L1331.8,564.3 L1333.8,564.4 L1335.8,564.4 L1337.8,564.5 L1339.8,564.6 L1341.8,564.6 L1343.8,564.7 L1345.8,564.8 L1347.8,564.9 L1349.8,565.0 L1351.8,565.1 L1353.8,565.2 L1355.8,565.3 L1357.8,565.4 L1359.8,565.6 L1361.8,565.7 L1363.8,565.8 L1365.8,566.0 L1367.8,566.1 L1369.8,566.2 L1371.8,566.4 L1373.8,566.6 L1375.8,566.7 L1377.8,566.9 L1379.8,567.1 L1381.8,567.3 L1383.8,567.5 L1385.8,567.7 L1387.8,567.9 L1389.8,568.1 L1391.8,568.3 L1393.8,568.5 L1395.8,568.7 L1397.8,568.9 L1399.8,569.1 L1401.8,569.4 L1403.8,569.6 L1405.8,569.9 L1407.8,570.1 L1409.8,570.4 L1411.8,570.6 L1413.8,570.9 L1415.8,571.2 L1417.8,571.4 L1419.8,571.7 L1421.8,572.0 L1423.8,572.3 L1425.8,572.7 L1427.8,573.0 L1429.8,573.3 L1431.8,573.7 L1433.8,574.0 L1435.8,574.4 L1437.8,574.8 L1439.8,575.2 L1441.8,575.6 L1443.8,576.0 L1445.8,576.4 L1447.8,576.8 L1449.8,577.3 L1451.8,577.7 L1453.8,578.2 L1455.8,578.7 L1457.8,579.2 L1459.8,579.7 L1461.8,580.3 L1463.8,580.8 L1465.8,581.3 L1467.8,581.9 L1469.8,582.4 L1471.8,582.9 L1473.8,583.5 L1475.8,584.0 L1477.8,584.5 L1479.8,585.1 L1481.8,585.6 L1483.8,586.1 L1485.8,586.7 L1487.8,587.2 L1489.8,587.7 L1491.8,588.3 L1493.8,588.8 L1495.8,589.4 L1497.8,589.9 L1499.8,590.4 L1501.8,591.0 L1503.8,591.5 L1505.8,592.0 L1507.8,592.6 L1509.8,593.1 L1511.8,593.7 L1513.8,594.2 L1515.8,594.7 L1517.8,595.3 L1519.8,595.8 L1521.8,596.3 L1523.8,596.9 L1525.8,597.4 L1527.8,598.0 L1529.8,598.5 L1531.8,599.0 L1533.8,599.6 L1535.8,600.1 L1537.8,600.6 L1539.8,601.2 L1541.8,601.7 L1543.8,602.3 L1545.8,602.8 L1547.8,603.3 L1549.8,603.9 L1551.8,604.4 L1553.8,605.0 L1555.8,605.5 L1557.8,606.0 L1559.8,606.6 L1561.8,607.1 L1563.8,607.7 L1565.8,608.2 L1567.8,608.7 L1569.8,609.3 L1571.8,609.8 L1573.8,610.4 L1575.8,610.9 L1577.8,611.4 L1579.8,612.0 L1581.8,612.5 L1583.8,613.1 L1585.8,613.6 L1587.8,614.1 L1589.8,614.7 L1591.8,615.2 L1593.8,615.8 L1595.8,616.3 L1597.8,616.8 L1599.8,617.4 L1601.8,617.9 L1603.8,618.4 L1605.8,619.0 L1607.8,619.5 L1609.8,620.1 L1611.8,620.6 L1613.8,621.1 L1615.8,621.6 L1617.8,622.1 L1619.8,622.6 L1621.8,623.1 L1623.8,623.5 L1625.8,624.0 L1627.8,624.4 L1629.8,624.9 L1631.8,625.3 L1633.8,625.7 L1635.8,626.1 L1637.8,626.5 L1639.8,626.9 L1641.8,627.3 L1643.8,627.7 L1645.8,628.0 L1647.8,628.4 L1649.8,628.7 L1651.8,629.1 L1653.8,629.4 L1655.8,629.8 L1657.8,630.1 L1659.8,630.4 L1661.8,630.8 L1663.8,631.1 L1665.8,631.4 L1667.8,631.7 L1669.8,632.0 L1671.8,632.4 L1673.8,632.7 L1675.8,633.0 L1677.8,633.3 L1679.8,633.6 L1681.8,633.9 L1683.8,634.2 L1685.8,634.5 L1687.8,634.8 L1689.8,635.1 L1691.8,635.3 L1693.8,635.6 L1695.8,635.9 L1697.8,636.1 L1699.8,636.3 L1701.8,636.6 L1703.8,636.8 L1705.8,637.0 L1707.8,637.3 L1709.8,637.5 L1711.8,637.7 L1713.8,637.9 L1715.8,638.1 L1717.8,638.3 L1719.8,638.5 L1721.8,638.7 L1723.8,638.9 L1725.8,639.1 L1727.8,639.3 L1729.8,639.5 L1731.8,639.7 L1733.8,639.9 L1735.8,640.1 L1737.8,640.3 L1739.8,640.5 L1741.8,640.7 L1743.8,640.9 L1745.8,641.1 L1747.8,641.3 L1749.8,641.6 L1751.8,641.8 L1753.8,642.0 L1755.8,642.3 L1757.8,642.5 L1759.8,642.8 L1761.8,643.1 L1763.8,643.3 L1765.8,643.6 L1767.8,643.9 L1769.8,644.2 L1771.8,644.5 L1773.8,644.8 L1775.8,645.2 L1777.8,645.5 L1779.8,645.8 L1781.8,646.2 L1783.8,646.5 L1785.8,646.9 L1787.8,647.2 L1789.8,647.6 L1791.8,648.0 L1793.8,648.4 L1795.8,648.8 L1797.8,649.1 L1799.8,649.5 L1801.8,649.9 L1803.8,650.4 L1805.8,650.8 L1807.8,651.2 L1809.8,651.6 L1811.8,652.0 L1813.8,652.5 L1815.8,652.9 L1817.8,653.3 L1819.8,653.8 L1821.8,654.2 L1823.8,654.7 L1825.8,655.1 L1827.8,655.6 L1829.8,656.0 L1831.8,656.5 L1833.8,656.9 L1835.8,657.4 L1837.8,657.9 L1839.8,658.4 L1841.8,659.0 L1843.8,659.6 L1845.8,660.2 L1847.8,660.8 L1849.8,661.5 L1851.8,662.1 L1853.8,662.8 L1855.8,663.6 L1857.8,664.3 L1859.8,665.1 L1861.8,665.8 L1863.8,666.6 L1865.8,667.5 L1867.8,668.3 L1869.8,669.2 L1871.8,670.1 L1873.8,671.0 L1875.8,671.9 L1877.8,672.8 L1879.8,673.8 L1881.8,674.8 L1883.8,675.7 L1885.8,676.7 L1887.8,677.8 L1889.8,678.8 L1891.8,679.9 L1893.8,680.9 L1895.8,682.0 L1897.8,683.1 L1899.8,684.2 L1901.8,685.3 L1903.8,686.5 L1905.8,687.6 L1907.8,688.8 L1909.8,689.9 L1911.8,691.1 L1913.8,692.4 L1915.8,693.6 L1917.8,694.9 L1919.8,696.2 L1921.8,697.5 L1923.8,698.9 L1925.8,700.3 L1927.8,701.7 L1929.8,703.2 L1931.8,704.6 L1933.8,706.1 L1935.8,707.6 L1937.8,709.2 L1939.8,710.7 L1941.8,712.3 L1943.8,713.9 L1945.8,715.6 L1947.8,717.2 L1949.8,718.9 L1951.8,720.6 L1953.8,722.3 L1955.8,724.0 L1957.8,725.8 L1959.8,727.6 L1961.8,729.4 L1963.8,731.2 L1965.8,733.0 L1967.8,734.9 L1969.8,736.7 L1971.8,738.6 L1973.8,740.5 L1975.8,742.4 L1977.8,744.4 L1979.8,746.3 L1981.8,748.3 L1983.8,750.3 L1985.8,752.3 L1987.8,754.4 L1989.8,756.6 L1991.8,758.8 L1993.8,761.1 L1995.8,763.4 L1997.8,765.7 L1999.8,768.2 L2001.8,770.7 L2003.8,773.2 L2005.8,775.8 L2007.8,778.5" fill="none" stroke="#fd3f3f" stroke-width="10.3" stroke-linejoin="round"/>
<circle cx="267.8" cy="590.8" r="15.7" fill="#fff" stroke="#fd3f3f" stroke-width="2.3"/>
<circle cx="342.4" cy="580.8" r="15.7" fill="#fff" stroke="#fd3f3f" stroke-width="2.3"/>
<circle cx="416.9" cy="574.7" r="15.7" fill="#fff" stroke="#fd3f3f" stroke-width="2.3"/>
<circle cx="491.5" cy="575.7" r="15.7" fill="#fff" stroke="#fd3f3f" stroke-width="2.3"/>
<circle cx="566.1" cy="592.5" r="15.7" fill="#fff" stroke="#fd3f3f" stroke-width="2.3"/>
<circle cx="640.6" cy="637.2" r="15.7" fill="#fff" stroke="#fd3f3f" stroke-width="2.3"/>
<circle cx="715.2" cy="739.4" r="15.7" fill="#fff" stroke="#fd3f3f" stroke-width="2.3"/>
<circle cx="789.8" cy="957.2" r="15.7" fill="#fff" stroke="#fd3f3f" stroke-width="2.3"/>
<circle cx="864.3" cy="766.1" r="15.7" fill="#fff" stroke="#fd3f3f" stroke-width="2.3"/>
<circle cx="938.9" cy="671.4" r="15.7" fill="#fff" stroke="#fd3f3f" stroke-width="2.3"/>
<circle cx="1013.5" cy="623.1" r="15.7" fill="#fff" stroke="#fd3f3f" stroke-width="2.3"/>
<circle cx="1088.0" cy="601.3" r="15.7" fill="#fff" stroke="#fd3f3f" stroke-width="2.3"/>
<circle cx="1162.6" cy="577.7" r="15.7" fill="#fff" stroke="#fd3f3f" stroke-width="2.3"/>
<circle cx="1237.1" cy="566.2" r="15.7" fill="#fff" stroke="#fd3f3f" stroke-width="2.3"/>
<circle cx="1311.7" cy="563.9" r="15.7" fill="#fff" stroke="#fd3f3f" stroke-width="2.3"/>
<circle cx="1386.3" cy="567.7" r="15.7" fill="#fff" stroke="#fd3f3f" stroke-width="2.3"/>
<circle cx="1460.8" cy="580.0" r="15.7" fill="#fff" stroke="#fd3f3f" stroke-width="2.3"/>
<circle cx="1535.4" cy="600.0" r="15.7" fill="#fff" stroke="#fd3f3f" stroke-width="2.3"/>
<circle cx="1610.0" cy="620.1" r="15.7" fill="#fff" stroke="#fd3f3f" stroke-width="2.3"/>
<circle cx="1684.5" cy="634.3" r="15.7" fill="#fff" stroke="#fd3f3f" stroke-width="2.3"/>
<circle cx="1759.1" cy="642.7" r="15.7" fill="#fff" stroke="#fd3f3f" stroke-width="2.3"/>
<circle cx="1833.7" cy="656.9" r="15.7" fill="#fff" stroke="#fd3f3f" stroke-width="2.3"/>
<circle cx="1908.2" cy="689.0" r="15.7" fill="#fff" stroke="#fd3f3f" stroke-width="2.3"/>
<circle cx="1982.8" cy="749.3" r="15.7" fill="#fff" stroke="#fd3f3f" stroke-width="2.3"/>
<path d="M267.8,641.0 L269.8,640.7 L271.8,640.4 L273.8,640.1 L275.8,639.7 L277.8,639.4 L279.8,639.1 L281.8,638.8 L283.8,638.5 L285.8,638.2 L287.8,637.8 L289.8,637.5 L291.8,637.2 L293.8,636.9 L295.8,636.6 L297.8,636.3 L299.8,635.9 L301.8,635.6 L303.8,635.3 L305.8,635.0 L307.8,634.6 L309.8,634.3 L311.8,634.0 L313.8,633.7 L315.8,633.4 L317.8,633.0 L319.8,632.7 L321.8,632.4 L323.8,632.1 L325.8,631.8 L327.8,631.4 L329.8,631.1 L331.8,630.8 L333.8,630.5 L335.8,630.2 L337.8,629.8 L339.8,629.5 L341.8,629.2 L343.8,628.9 L345.8,628.5 L347.8,628.2 L349.8,627.9 L351.8,627.6 L353.8,627.2 L355.8,626.9 L357.8,626.6 L359.8,626.3 L361.8,625.9 L363.8,625.6 L365.8,625.3 L367.8,624.9 L369.8,624.6 L371.8,624.3 L373.8,623.9 L375.8,623.6 L377.8,623.2 L379.8,622.9 L381.8,622.6 L383.8,622.2 L385.8,621.9 L387.8,621.6 L389.8,621.2 L391.8,620.9 L393.8,620.5 L395.8,620.2 L397.8,619.9 L399.8,619.5 L401.8,619.2 L403.8,618.9 L405.8,618.5 L407.8,618.2 L409.8,617.9 L411.8,617.5 L413.8,617.2 L415.8,616.9 L417.8,616.6 L419.8,616.3 L421.8,616.0 L423.8,615.7 L425.8,615.5 L427.8,615.3 L429.8,615.1 L431.8,614.9 L433.8,614.8 L435.8,614.7 L437.8,614.6 L439.8,614.5 L441.8,614.4 L443.8,614.3 L445.8,614.3 L447.8,614.3 L449.8,614.3 L451.8,614.3 L453.8,614.3 L455.8,614.3 L457.8,614.4 L459.8,614.4 L461.8,614.5 L463.8,614.5 L465.8,614.6 L467.8,614.7 L469.8,614.8 L471.8,614.9 L473.8,615.0 L475.8,615.1 L477.8,615.2 L479.8,615.3 L481.8,615.4 L483.8,615.5 L485.8,615.7 L487.8,615.8 L489.8,615.9 L491.8,616.0 L493.8,616.2 L495.8,616.3 L497.8,616.5 L499.8,616.8 L501.8,617.0 L503.8,617.3 L505.8,617.7 L507.8,618.0 L509.8,618.4 L511.8,618.8 L513.8,619.3 L515.8,619.7 L517.8,620.2 L519.8,620.8 L521.8,621.3 L523.8,621.9 L525.8,622.5 L527.8,623.1 L529.8,623.7 L531.8,624.4 L533.8,625.1 L535.8,625.8 L537.8,626.5 L539.8,627.2 L541.8,628.0 L543.8,628.8 L545.8,629.6 L547.8,630.4 L549.8,631.2 L551.8,632.1 L553.8,632.9 L555.8,633.8 L557.8,634.7 L559.8,635.6 L561.8,636.5 L563.8,637.4 L565.8,638.4 L567.8,639.3 L569.8,640.3 L571.8,641.4 L573.8,642.5 L575.8,643.6 L577.8,644.8 L579.8,646.0 L581.8,647.3 L583.8,648.6 L585.8,650.0 L587.8,651.3 L589.8,652.8 L591.8,654.3 L593.8,655.8 L595.8,657.4 L597.8,659.0 L599.8,660.6 L601.8,662.3 L603.8,664.0 L605.8,665.8 L607.8,667.6 L609.8,669.5 L611.8,671.4 L613.8,673.3 L615.8,675.3 L617.8,677.3 L619.8,679.4 L621.8,681.5 L623.8,683.6 L625.8,685.8 L627.8,688.0 L629.8,690.3 L631.8,692.6 L633.8,694.9 L635.8,697.3 L637.8,699.7 L639.8,702.2 L641.8,704.7 L643.8,707.3 L645.8,710.2 L647.8,713.1 L649.8,716.2 L651.8,719.3 L653.8,722.6 L655.8,726.0 L657.8,729.5 L659.8,733.0 L661.8,736.6 L663.8,740.3 L665.8,744.1 L667.8,748.0 L669.8,751.9 L671.8,756.0 L673.8,760.1 L675.8,764.3 L677.8,768.7 L679.8,773.2 L681.8,777.8 L683.8,782.5 L685.8,787.3 L687.8,792.4 L689.8,797.7 L691.8,803.2 L693.8,809.0 L695.8,814.9 L697.8,821.1 L699.8,827.5 L701.8,834.2 L703.8,840.9 L705.8,847.8 L707.8,854.9 L709.8,862.1 L711.8,869.6 L713.8,877.4 L715.8,885.4 L717.8,893.6 L719.8,901.9 L721.8,910.2 L723.8,918.4 L725.8,926.5 L727.8,934.5 L729.8,942.4 L731.8,950.3 L733.8,958.0 L735.8,964.8 L737.8,970.8 L739.8,976.6 L741.8,980.9 L743.8,981.7 L745.8,978.7 L747.8,973.9 L749.8,967.8 L751.8,961.0 L753.8,953.9 L755.8,946.6 L757.8,938.5 L759.8,929.4 L761.8,920.1 L763.8,911.6 L765.8,903.5 L767.8,895.5 L769.8,887.7 L771.8,880.0 L773.8,873.0 L775.8,867.0 L777.8,861.5 L779.8,855.9 L781.8,850.0 L783.8,844.0 L785.8,838.0 L787.8,832.1 L789.8,826.2 L791.8,820.4 L793.8,814.7 L795.8,809.2 L797.8,803.8 L799.8,798.5 L801.8,793.3 L803.8,788.2 L805.8,783.3 L807.8,778.5 L809.8,774.0 L811.8,769.6 L813.8,765.3 L815.8,761.3 L817.8,757.3 L819.8,753.4 L821.8,749.6 L823.8,745.9 L825.8,742.3 L827.8,738.7 L829.8,735.2 L831.8,731.8 L833.8,728.6 L835.8,725.4 L837.8,722.4 L839.8,719.6 L841.8,716.9 L843.8,714.4 L845.8,711.9 L847.8,709.4 L849.8,707.0 L851.8,704.7 L853.8,702.4 L855.8,700.1 L857.8,698.0 L859.8,695.9 L861.8,693.8 L863.8,691.8 L865.8,689.9 L867.8,687.9 L869.8,686.0 L871.8,684.1 L873.8,682.2 L875.8,680.4 L877.8,678.5 L879.8,676.7 L881.8,674.9 L883.8,673.1 L885.8,671.3 L887.8,669.5 L889.8,667.8 L891.8,666.1 L893.8,664.4 L895.8,662.7 L897.8,661.1 L899.8,659.4 L901.8,657.8 L903.8,656.1 L905.8,654.5 L907.8,652.8 L909.8,651.2 L911.8,649.6 L913.8,648.0 L915.8,646.4 L917.8,644.9 L919.8,643.4 L921.8,642.0 L923.8,640.6 L925.8,639.2 L927.8,637.9 L929.8,636.7 L931.8,635.6 L933.8,634.5 L935.8,633.5 L937.8,632.6 L939.8,631.7 L941.8,630.9 L943.8,630.1 L945.8,629.3 L947.8,628.5 L949.8,627.7 L951.8,626.9 L953.8,626.1 L955.8,625.3 L957.8,624.5 L959.8,623.7 L961.8,622.9 L963.8,622.1 L965.8,621.4 L967.8,620.6 L969.8,619.8 L971.8,619.0 L973.8,618.2 L975.8,617.5 L977.8,616.7 L979.8,615.9 L981.8,615.1 L983.8,614.4 L985.8,613.6 L987.8,612.8 L989.8,612.0 L991.8,611.2 L993.8,610.5 L995.8,609.7 L997.8,608.9 L999.8,608.1 L1001.8,607.4 L1003.8,606.6 L1005.8,605.9 L1007.8,605.1 L1009.8,604.4 L1011.8,603.6 L1013.8,602.9 L1015.8,602.1 L1017.8,601.5 L1019.8,600.8 L1021.8,600.1 L1023.8,599.5 L1025.8,598.9 L1027.8,598.3 L1029.8,597.7 L1031.8,597.1 L1033.8,596.6 L1035.8,596.1 L1037.8,595.6 L1039.8,595.1 L1041.8,594.6 L1043.8,594.1 L1045.8,593.7 L1047.8,593.3 L1049.8,592.9 L1051.8,592.5 L1053.8,592.1 L1055.8,591.7 L1057.8,591.3 L1059.8,591.0 L1061.8,590.6 L1063.8,590.3 L1065.8,590.0 L1067.8,589.7 L1069.8,589.4 L1071.8,589.1 L1073.8,588.8 L1075.8,588.5 L1077.8,588.3 L1079.8,588.0 L1081.8,587.8 L1083.8,587.5 L1085.8,587.3 L1087.8,587.0 L1089.8,586.8 L1091.8,586.6 L1093.8,586.3 L1095.8,586.1 L1097.8,585.9 L1099.8,585.6 L1101.8,585.4 L1103.8,585.2 L1105.8,585.0 L1107.8,584.7 L1109.8,584.5 L1111.8,584.3 L1113.8,584.1 L1115.8,583.9 L1117.8,583.7 L1119.8,583.5 L1121.8,583.3 L1123.8,583.1 L1125.8,582.9 L1127.8,582.7 L1129.8,582.5 L1131.8,582.3 L1133.8,582.1 L1135.8,581.9 L1137.8,581.7 L1139.8,581.6 L1141.8,581.4 L1143.8,581.2 L1145.8,581.1 L1147.8,580.9 L1149.8,580.7 L1151.8,580.6 L1153.8,580.4 L1155.8,580.3 L1157.8,580.1 L1159.8,580.0 L1161.8,579.9 L1163.8,579.7 L1165.8,579.6 L1167.8,579.5 L1169.8,579.3 L1171.8,579.2 L1173.8,579.1 L1175.8,578.9 L1177.8,578.8 L1179.8,578.7 L1181.8,578.5 L1183.8,578.4 L1185.8,578.3 L1187.8,578.2 L1189.8,578.0 L1191.8,577.9 L1193.8,577.8 L1195.8,577.7 L1197.8,577.5 L1199.8,577.4 L1201.8,577.3 L1203.8,577.2 L1205.8,577.1 L1207.8,576.9 L1209.8,576.8 L1211.8,576.7 L1213.8,576.6 L1215.8,576.5 L1217.8,576.4 L1219.8,576.3 L1221.8,576.2 L1223.8,576.1 L1225.8,576.0 L1227.8,575.9 L1229.8,575.8 L1231.8,575.7 L1233.8,575.6 L1235.8,575.5 L1237.8,575.4 L1239.8,575.3 L1241.8,575.2 L1243.8,575.1 L1245.8,575.0 L1247.8,574.9 L1249.8,574.9 L1251.8,574.8 L1253.8,574.7 L1255.8,574.6 L1257.8,574.6 L1259.8,574.5 L1261.8,574.4 L1263.8,574.4 L1265.8,574.3 L1267.8,574.3 L1269.8,574.2 L1271.8,574.1 L1273.8,574.1 L1275.8,574.0 L1277.8,574.0 L1279.8,574.0 L1281.8,573.9 L1283.8,573.9 L1285.8,573.8 L1287.8,573.8 L1289.8,573.7 L1291.8,573.7 L1293.8,573.7 L1295.8,573.6 L1297.8,573.6 L1299.8,573.6 L1301.8,573.5 L1303.8,573.5 L1305.8,573.5 L1307.8,573.5 L1309.8,573.4 L1311.8,573.4 L1313.8,573.4 L1315.8,573.4 L1317.8,573.3 L1319.8,573.3 L1321.8,573.3 L1323.8,573.4 L1325.8,573.4 L1327.8,573.4 L1329.8,573.4 L1331.8,573.4 L1333.8,573.5 L1335.8,573.5 L1337.8,573.6 L1339.8,573.6 L1341.8,573.7 L1343.8,573.7 L1345.8,573.8 L1347.8,573.9 L1349.8,574.0 L1351.8,574.1 L1353.8,574.1 L1355.8,574.2 L1357.8,574.3 L1359.8,574.4 L1361.8,574.6 L1363.8,574.7 L1365.8,574.8 L1367.8,574.9 L1369.8,575.1 L1371.8,575.2 L1373.8,575.3 L1375.8,575.5 L1377.8,575.6 L1379.8,575.8 L1381.8,575.9 L1383.8,576.1 L1385.8,576.3 L1387.8,576.4 L1389.8,576.6 L1391.8,576.8 L1393.8,577.0 L1395.8,577.2 L1397.8,577.4 L1399.8,577.6 L1401.8,577.9 L1403.8,578.1 L1405.8,578.4 L1407.8,578.6 L1409.8,578.9 L1411.8,579.1 L1413.8,579.4 L1415.8,579.7 L1417.8,580.0 L1419.8,580.3 L1421.8,580.6 L1423.8,580.9 L1425.8,581.3 L1427.8,581.6 L1429.8,581.9 L1431.8,582.3 L1433.8,582.6 L1435.8,583.0 L1437.8,583.4 L1439.8,583.8 L1441.8,584.1 L1443.8,584.5 L1445.8,584.9 L1447.8,585.3 L1449.8,585.8 L1451.8,586.2 L1453.8,586.6 L1455.8,587.1 L1457.8,587.5 L1459.8,588.0 L1461.8,588.4 L1463.8,588.9 L1465.8,589.4 L1467.8,589.8 L1469.8,590.3 L1471.8,590.8 L1473.8,591.3 L1475.8,591.7 L1477.8,592.2 L1479.8,592.7 L1481.8,593.2 L1483.8,593.7 L1485.8,594.2 L1487.8,594.7 L1489.8,595.2 L1491.8,595.7 L1493.8,596.2 L1495.8,596.8 L1497.8,597.3 L1499.8,597.8 L1501.8,598.3 L1503.8,598.9 L1505.8,599.4 L1507.8,600.0 L1509.8,600.5 L1511.8,601.1 L1513.8,601.6 L1515.8,602.2 L1517.8,602.8 L1519.8,603.3 L1521.8,603.9 L1523.8,604.5 L1525.8,605.1 L1527.8,605.7 L1529.8,606.3 L1531.8,606.9 L1533.8,607.5 L1535.8,608.1 L1537.8,608.7 L1539.8,609.4 L1541.8,610.0 L1543.8,610.6 L1545.8,611.3 L1547.8,611.9 L1549.8,612.6 L1551.8,613.2 L1553.8,613.9 L1555.8,614.5 L1557.8,615.2 L1559.8,615.9 L1561.8,616.5 L1563.8,617.2 L1565.8,617.8 L1567.8,618.5 L1569.8,619.2 L1571.8,619.8 L1573.8,620.5 L1575.8,621.2 L1577.8,621.8 L1579.8,622.5 L1581.8,623.2 L1583.8,623.8 L1585.8,624.5 L1587.8,625.1 L1589.8,625.8 L1591.8,626.4 L1593.8,627.1 L1595.8,627.7 L1597.8,628.4 L1599.8,629.0 L1601.8,629.7 L1603.8,630.3 L1605.8,630.9 L1607.8,631.5 L1609.8,632.1 L1611.8,632.8 L1613.8,633.4 L1615.8,634.0 L1617.8,634.6 L1619.8,635.2 L1621.8,635.8 L1623.8,636.4 L1625.8,637.0 L1627.8,637.6 L1629.8,638.2 L1631.8,638.8 L1633.8,639.4 L1635.8,640.0 L1637.8,640.6 L1639.8,641.2 L1641.8,641.8 L1643.8,642.3 L1645.8,642.9 L1647.8,643.5 L1649.8,644.1 L1651.8,644.7 L1653.8,645.2 L1655.8,645.8 L1657.8,646.4 L1659.8,647.0 L1661.8,647.5 L1663.8,648.1 L1665.8,648.7 L1667.8,649.2 L1669.8,649.8 L1671.8,650.3 L1673.8,650.9 L1675.8,651.4 L1677.8,652.0 L1679.8,652.5 L1681.8,653.1 L1683.8,653.6 L1685.8,654.1 L1687.8,654.7 L1689.8,655.2 L1691.8,655.7 L1693.8,656.2 L1695.8,656.7 L1697.8,657.2 L1699.8,657.7 L1701.8,658.2 L1703.8,658.7 L1705.8,659.1 L1707.8,659.6 L1709.8,660.1 L1711.8,660.5 L1713.8,661.0 L1715.8,661.4 L1717.8,661.9 L1719.8,662.3 L1721.8,662.8 L1723.8,663.3 L1725.8,663.7 L1727.8,664.1 L1729.8,664.6 L1731.8,665.0 L1733.8,665.5 L1735.8,665.9 L1737.8,666.4 L1739.8,666.9 L1741.8,667.3 L1743.8,667.8 L1745.8,668.2 L1747.8,668.7 L1749.8,669.2 L1751.8,669.6 L1753.8,670.1 L1755.8,670.6 L1757.8,671.1 L1759.8,671.6 L1761.8,672.1 L1763.8,672.6 L1765.8,673.1 L1767.8,673.6 L1769.8,674.1 L1771.8,674.7 L1773.8,675.2 L1775.8,675.7 L1777.8,676.3 L1779.8,676.8 L1781.8,677.4 L1783.8,678.0 L1785.8,678.5 L1787.8,679.1 L1789.8,679.7 L1791.8,680.3 L1793.8,680.8 L1795.8,681.4 L1797.8,682.0 L1799.8,682.6 L1801.8,683.2 L1803.8,683.8 L1805.8,684.4 L1807.8,685.0 L1809.8,685.6 L1811.8,686.2 L1813.8,686.8 L1815.8,687.5 L1817.8,688.1 L1819.8,688.7 L1821.8,689.3 L1823.8,689.9 L1825.8,690.6 L1827.8,691.2 L1829.8,691.8 L1831.8,692.4 L1833.8,693.0 L1835.8,693.7 L1837.8,694.3 L1839.8,695.0 L1841.8,695.8 L1843.8,696.5 L1845.8,697.3 L1847.8,698.1 L1849.8,698.9 L1851.8,699.7 L1853.8,700.6 L1855.8,701.5 L1857.8,702.4 L1859.8,703.3 L1861.8,704.2 L1863.8,705.2 L1865.8,706.2 L1867.8,707.2 L1869.8,708.2 L1871.8,709.3 L1873.8,710.3 L1875.8,711.4 L1877.8,712.5 L1879.8,713.6 L1881.8,714.8 L1883.8,715.9 L1885.8,717.1 L1887.8,718.3 L1889.8,719.4 L1891.8,720.6 L1893.8,721.9 L1895.8,723.1 L1897.8,724.3 L1899.8,725.6 L1901.8,726.9 L1903.8,728.1 L1905.8,729.4 L1907.8,730.7 L1909.8,732.0 L1911.8,733.4 L1913.8,734.8 L1915.8,736.3 L1917.8,737.8 L1919.8,739.3 L1921.8,740.9 L1923.8,742.5 L1925.8,744.2 L1927.8,745.9 L1929.8,747.6 L1931.8,749.4 L1933.8,751.2 L1935.8,753.0 L1937.8,754.9 L1939.8,756.9 L1941.8,758.8 L1943.8,760.8 L1945.8,762.8 L1947.8,764.9 L1949.8,767.0 L1951.8,769.1 L1953.8,771.2 L1955.8,773.4 L1957.8,775.6 L1959.8,777.8 L1961.8,780.1 L1963.8,782.4 L1965.8,784.7 L1967.8,787.0 L1969.8,789.4 L1971.8,791.8 L1973.8,794.2 L1975.8,796.6 L1977.8,799.0 L1979.8,801.5 L1981.8,804.0 L1983.8,806.5 L1985.8,809.1 L1987.8,811.7 L1989.8,814.5 L1991.8,817.4 L1993.8,820.3 L1995.8,823.3 L1997.8,826.5 L1999.8,829.7 L2001.8,832.9 L2003.8,836.3 L2005.8,839.8 L2007.8,843.3" fill="none" stroke="#0767e0" stroke-width="10.3" stroke-linejoin="round"/>
<path d="M267.8,619.6 L285.7,651.8 L249.9,651.8 Z" fill="#fff" stroke="#0767e0" stroke-width="2.3" stroke-linejoin="miter"/>
<path d="M342.4,607.7 L360.3,639.9 L324.4,639.9 Z" fill="#fff" stroke="#0767e0" stroke-width="2.3" stroke-linejoin="miter"/>
<path d="M416.9,595.3 L434.9,627.5 L399.0,627.5 Z" fill="#fff" stroke="#0767e0" stroke-width="2.3" stroke-linejoin="miter"/>
<path d="M491.5,594.6 L509.4,626.8 L473.6,626.8 Z" fill="#fff" stroke="#0767e0" stroke-width="2.3" stroke-linejoin="miter"/>
<path d="M566.1,617.1 L584.0,649.3 L548.1,649.3 Z" fill="#fff" stroke="#0767e0" stroke-width="2.3" stroke-linejoin="miter"/>
<path d="M640.6,681.8 L658.6,714.0 L622.7,714.0 Z" fill="#fff" stroke="#0767e0" stroke-width="2.3" stroke-linejoin="miter"/>
<path d="M715.2,861.5 L733.1,893.7 L697.3,893.7 Z" fill="#fff" stroke="#0767e0" stroke-width="2.3" stroke-linejoin="miter"/>
<path d="M789.8,804.9 L807.7,837.1 L771.8,837.1 Z" fill="#fff" stroke="#0767e0" stroke-width="2.3" stroke-linejoin="miter"/>
<path d="M864.3,669.9 L882.2,702.1 L846.4,702.1 Z" fill="#fff" stroke="#0767e0" stroke-width="2.3" stroke-linejoin="miter"/>
<path d="M938.9,610.7 L956.8,642.9 L921.0,642.9 Z" fill="#fff" stroke="#0767e0" stroke-width="2.3" stroke-linejoin="miter"/>
<path d="M1013.5,581.6 L1031.4,613.8 L995.5,613.8 Z" fill="#fff" stroke="#0767e0" stroke-width="2.3" stroke-linejoin="miter"/>
<path d="M1088.0,565.6 L1105.9,597.8 L1070.1,597.8 Z" fill="#fff" stroke="#0767e0" stroke-width="2.3" stroke-linejoin="miter"/>
<path d="M1162.6,558.4 L1180.5,590.6 L1144.7,590.6 Z" fill="#fff" stroke="#0767e0" stroke-width="2.3" stroke-linejoin="miter"/>
<path d="M1237.1,554.0 L1255.1,586.2 L1219.2,586.2 Z" fill="#fff" stroke="#0767e0" stroke-width="2.3" stroke-linejoin="miter"/>
<path d="M1311.7,552.0 L1329.6,584.2 L1293.8,584.2 Z" fill="#fff" stroke="#0767e0" stroke-width="2.3" stroke-linejoin="miter"/>
<path d="M1386.3,554.9 L1404.2,587.1 L1368.3,587.1 Z" fill="#fff" stroke="#0767e0" stroke-width="2.3" stroke-linejoin="miter"/>
<path d="M1460.8,566.8 L1478.8,599.0 L1442.9,599.0 Z" fill="#fff" stroke="#0767e0" stroke-width="2.3" stroke-linejoin="miter"/>
<path d="M1535.4,586.6 L1553.3,618.8 L1517.5,618.8 Z" fill="#fff" stroke="#0767e0" stroke-width="2.3" stroke-linejoin="miter"/>
<path d="M1610.0,610.8 L1627.9,643.0 L1592.0,643.0 Z" fill="#fff" stroke="#0767e0" stroke-width="2.3" stroke-linejoin="miter"/>
<path d="M1684.5,632.4 L1702.5,664.6 L1666.6,664.6 Z" fill="#fff" stroke="#0767e0" stroke-width="2.3" stroke-linejoin="miter"/>
<path d="M1759.1,650.0 L1777.0,682.2 L1741.2,682.2 Z" fill="#fff" stroke="#0767e0" stroke-width="2.3" stroke-linejoin="miter"/>
<path d="M1833.7,671.6 L1851.6,703.8 L1815.7,703.8 Z" fill="#fff" stroke="#0767e0" stroke-width="2.3" stroke-linejoin="miter"/>
<path d="M1908.2,709.6 L1926.2,741.8 L1890.3,741.8 Z" fill="#fff" stroke="#0767e0" stroke-width="2.3" stroke-linejoin="miter"/>
<path d="M1982.8,783.8 L2000.7,816.0 L1964.9,816.0 Z" fill="#fff" stroke="#0767e0" stroke-width="2.3" stroke-linejoin="miter"/>
</g>
<g stroke="#000" stroke-width="5" fill="none" stroke-linecap="butt">
<rect x="267.8" y="71.7" width="1739.9" height="1401.8999999999999"/>
<line x1="239.8" y1="71.8" x2="267.8" y2="71.8"/>
<line x1="253.8" y1="120.1" x2="267.8" y2="120.1"/>
<line x1="239.8" y1="168.4" x2="267.8" y2="168.4"/>
<line x1="253.8" y1="216.7" x2="267.8" y2="216.7"/>
<line x1="239.8" y1="264.9" x2="267.8" y2="264.9"/>
<line x1="253.8" y1="313.2" x2="267.8" y2="313.2"/>
<line x1="239.8" y1="361.5" x2="267.8" y2="361.5"/>
<line x1="253.8" y1="409.8" x2="267.8" y2="409.8"/>
<line x1="239.8" y1="458.1" x2="267.8" y2="458.1"/>
<line x1="253.8" y1="506.4" x2="267.8" y2="506.4"/>
<line x1="239.8" y1="554.6" x2="267.8" y2="554.6"/>
<line x1="253.8" y1="602.9" x2="267.8" y2="602.9"/>
<line x1="239.8" y1="651.2" x2="267.8" y2="651.2"/>
<line x1="253.8" y1="699.5" x2="267.8" y2="699.5"/>
<line x1="239.8" y1="747.8" x2="267.8" y2="747.8"/>
<line x1="253.8" y1="796.1" x2="267.8" y2="796.1"/>
<line x1="239.8" y1="844.4" x2="267.8" y2="844.4"/>
<line x1="253.8" y1="892.6" x2="267.8" y2="892.6"/>
<line x1="239.8" y1="940.9" x2="267.8" y2="940.9"/>
<line x1="253.8" y1="989.2" x2="267.8" y2="989.2"/>
<line x1="239.8" y1="1037.5" x2="267.8" y2="1037.5"/>
<line x1="253.8" y1="1085.8" x2="267.8" y2="1085.8"/>
<line x1="239.8" y1="1134.1" x2="267.8" y2="1134.1"/>
<line x1="253.8" y1="1182.4" x2="267.8" y2="1182.4"/>
<line x1="239.8" y1="1230.6" x2="267.8" y2="1230.6"/>
<line x1="253.8" y1="1278.9" x2="267.8" y2="1278.9"/>
<line x1="239.8" y1="1327.2" x2="267.8" y2="1327.2"/>
<line x1="253.8" y1="1375.5" x2="267.8" y2="1375.5"/>
<line x1="239.8" y1="1423.8" x2="267.8" y2="1423.8"/>
<line x1="253.8" y1="1472.1" x2="267.8" y2="1472.1"/>
<line x1="267.8" y1="1473.6" x2="267.8" y2="1501.0"/>
<line x1="392.1" y1="1473.6" x2="392.1" y2="1487.6"/>
<line x1="516.4" y1="1473.6" x2="516.4" y2="1501.0"/>
<line x1="640.6" y1="1473.6" x2="640.6" y2="1487.6"/>
<line x1="764.9" y1="1473.6" x2="764.9" y2="1501.0"/>
<line x1="889.2" y1="1473.6" x2="889.2" y2="1487.6"/>
<line x1="1013.5" y1="1473.6" x2="1013.5" y2="1501.0"/>
<line x1="1137.7" y1="1473.6" x2="1137.7" y2="1487.6"/>
<line x1="1262.0" y1="1473.6" x2="1262.0" y2="1501.0"/>
<line x1="1386.3" y1="1473.6" x2="1386.3" y2="1487.6"/>
<line x1="1510.5" y1="1473.6" x2="1510.5" y2="1501.0"/>
<line x1="1634.8" y1="1473.6" x2="1634.8" y2="1487.6"/>
<line x1="1759.1" y1="1473.6" x2="1759.1" y2="1501.0"/>
<line x1="1883.4" y1="1473.6" x2="1883.4" y2="1487.6"/>
<line x1="2007.7" y1="1473.6" x2="2007.7" y2="1501.0"/>
</g>
<text class="tk" x="221.3" y="96.0" text-anchor="end">0</text>
<text class="tk" x="221.3" y="192.6" text-anchor="end">−<tspan dx="-2.4">5</tspan></text>
<text class="tk" x="221.3" y="289.1" text-anchor="end">−<tspan dx="-2.4">10</tspan></text>
<text class="tk" x="221.3" y="385.7" text-anchor="end">−<tspan dx="-2.4">15</tspan></text>
<text class="tk" x="221.3" y="482.3" text-anchor="end">−<tspan dx="-2.4">20</tspan></text>
<text class="tk" x="221.3" y="578.9" text-anchor="end">−<tspan dx="-2.4">25</tspan></text>
<text class="tk" x="221.3" y="675.4" text-anchor="end">−<tspan dx="-2.4">30</tspan></text>
<text class="tk" x="221.3" y="772.0" text-anchor="end">−<tspan dx="-2.4">35</tspan></text>
<text class="tk" x="221.3" y="868.6" text-anchor="end">−<tspan dx="-2.4">40</tspan></text>
<text class="tk" x="221.3" y="965.1" text-anchor="end">−<tspan dx="-2.4">45</tspan></text>
<text class="tk" x="221.3" y="1061.7" text-anchor="end">−<tspan dx="-2.4">50</tspan></text>
<text class="tk" x="221.3" y="1158.3" text-anchor="end">−<tspan dx="-2.4">55</tspan></text>
<text class="tk" x="221.3" y="1254.8" text-anchor="end">−<tspan dx="-2.4">60</tspan></text>
<text class="tk" x="221.3" y="1351.4" text-anchor="end">−<tspan dx="-2.4">65</tspan></text>
<text class="tk" x="221.3" y="1448.0" text-anchor="end">−<tspan dx="-2.4">70</tspan></text>
<text class="tk" x="267.8" y="1570" text-anchor="middle">24</text>
<text class="tk" x="516.4" y="1570" text-anchor="middle">25</text>
<text class="tk" x="764.9" y="1570" text-anchor="middle">26</text>
<text class="tk" x="1013.5" y="1570" text-anchor="middle">27</text>
<text class="tk" x="1262.0" y="1570" text-anchor="middle">28</text>
<text class="tk" x="1510.5" y="1570" text-anchor="middle">29</text>
<text class="tk" x="1759.1" y="1570" text-anchor="middle">30</text>
<text class="tk" x="2007.7" y="1570" text-anchor="middle">31</text>
<text class="lb" x="1138.7" y="1671.5" text-anchor="middle">Frequency(GHz)</text>
<text class="lb" transform="translate(101.8,773.2) rotate(-90)" text-anchor="middle">S-parameter(dB)</text>
<line x1="857.0" y1="1124.4" x2="1019.7" y2="1124.4" stroke="#4e4e4e" stroke-width="10" stroke-linecap="round"/>
<rect x="923.0" y="1109.2" width="30.5" height="30.5" fill="#4e4e4e"/>
<text class="lg" x="1038" y="1148.8">AntI_S11</text>
<line x1="1376.2" y1="1124.4" x2="1538.8" y2="1124.4" stroke="#4e4e4e" stroke-width="10" stroke-linecap="round"/>
<rect x="1443.5" y="1110.4" width="28.0" height="28.0" fill="#fff" stroke="#000" stroke-width="2.5"/>
<text class="lg" x="1558.1" y="1148.8">AntI_S21</text>
<line x1="857.0" y1="1214" x2="1019.7" y2="1214" stroke="#fd3f3f" stroke-width="10" stroke-linecap="round"/>
<circle cx="938.2" cy="1214.0" r="16.8" fill="#fd3f3f"/>
<text class="lg" x="1038" y="1238.3">AntII_S11</text>
<line x1="1382.2" y1="1214" x2="1544.8" y2="1214" stroke="#fd3f3f" stroke-width="10" stroke-linecap="round"/>
<circle cx="1463.5" cy="1214.0" r="15.7" fill="#fff" stroke="#fd3f3f" stroke-width="2.3"/>
<text class="lg" x="1563.1" y="1238.3">AntII_S21</text>
<line x1="857.0" y1="1304.2" x2="1019.7" y2="1304.2" stroke="#0767e0" stroke-width="10" stroke-linecap="round"/>
<path d="M938.2,1280.5 L958.2,1316.0 L918.2,1316.0 Z" fill="#0767e0"/>
<text class="lg" x="1038" y="1327.9">AntIII_S11</text>
<line x1="1388.1" y1="1304.2" x2="1550.7" y2="1304.2" stroke="#0767e0" stroke-width="10" stroke-linecap="round"/>
<path d="M1469.4,1282.8 L1487.3,1315.0 L1451.5,1315.0 Z" fill="#fff" stroke="#0767e0" stroke-width="2.3" stroke-linejoin="miter"/>
<text class="lg" x="1568.5" y="1327.9">AntIII_S21</text>
</svg></body></html>
